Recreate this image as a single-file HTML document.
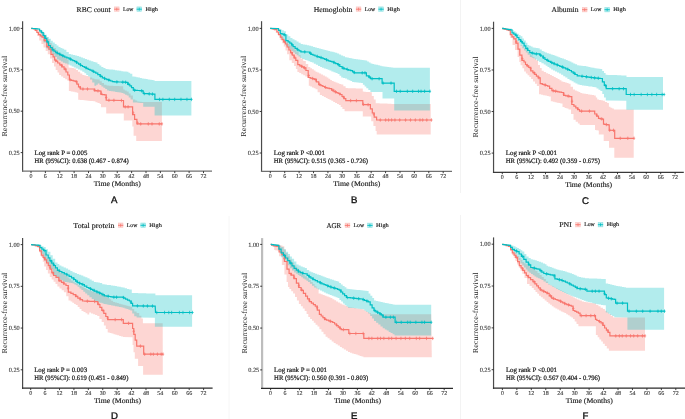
<!DOCTYPE html><html><head><meta charset="utf-8"><style>html,body{margin:0;padding:0;background:#fff;width:685px;height:419px;overflow:hidden}svg{display:block;will-change:transform}</style></head><body>
<svg width="685" height="419" viewBox="0 0 685 419" font-family="Liberation Serif, serif" text-rendering="geometricPrecision">
<rect width="685" height="419" fill="#fff"/>
<path d="M31.2,27.9 L32.1,27.9 L32.1,28 L33.9,28 L33.9,28.2 L35.7,28.2 L35.7,28.3 L36.6,28.3 L37.8,28.3 L37.8,29.5 L39,29.5 L39.8,29.5 L39.8,30.5 L41.5,30.5 L41.5,31.5 L42.3,31.5 L43.1,31.5 L43.1,33.5 L44.7,33.5 L44.7,35.5 L45.5,35.5 L46.2,35.5 L46.2,37.2 L47.8,37.2 L47.8,39 L48.5,39 L49.5,39 L49.5,43 L50.6,43 L51.7,43 L51.7,45.5 L53.8,45.5 L53.8,48 L54.9,48 L56,48 L56,50.2 L58.1,50.2 L58.1,52.5 L59.2,52.5 L60.4,52.5 L60.4,54.5 L62.7,54.5 L62.7,56.5 L63.9,56.5 L65.1,56.5 L65.1,58.1 L67.4,58.1 L67.4,59.8 L68.6,59.8 L68.6,67.4 L69.6,67.4 L69.6,67.7 L71.7,67.7 L71.7,68.1 L73.8,68.1 L73.8,68.4 L74.8,68.4 L75.9,68.4 L75.9,70.1 L78,70.1 L78,71.7 L80.2,71.7 L80.2,73.4 L82.3,73.4 L82.3,75 L83.4,75 L84.4,75 L84.4,75.5 L86.2,75.5 L86.2,76 L88.1,76 L88.1,76.5 L89.1,76.5 L90.1,76.5 L90.1,77.4 L92.2,77.4 L92.2,78.4 L94.4,78.4 L94.4,79.3 L95.4,79.3 L98.6,79.5 L99.7,79.5 L99.7,81.2 L101.8,81.2 L101.8,83 L104,83 L104,84.7 L105.1,84.7 L106.5,84.7 L106.5,85.6 L108,85.6 L109,85.6 L109,85.7 L111.1,85.7 L111.1,85.8 L113.2,85.8 L113.2,85.9 L115.2,85.9 L115.2,86 L117.3,86 L117.3,86.1 L119.4,86.1 L119.4,86.2 L121.5,86.2 L121.5,86.3 L122.5,86.3 L123.2,86.3 L123.2,89.6 L123.8,89.6 L124.8,89.6 L124.8,90.5 L126.7,90.5 L126.7,91.5 L127.7,91.5 L128.7,91.5 L128.7,93.5 L130.6,93.5 L130.6,95.5 L131.6,95.5 L132.9,95.5 L132.9,99.4 L134.3,99.4 L135.3,99.4 L135.3,100.4 L137.2,100.4 L137.2,101.4 L138.2,101.4 L139.3,101.4 L139.3,101.7 L141.7,101.7 L141.7,102 L142.8,102 L161.9,102 L161.9,141 L137.6,141 L136.2,141 L136.2,135.7 L134.9,135.7 L133.6,135.7 L133.6,126.5 L132.3,126.5 L132.3,120.6 L123.8,120.6 L123.8,113.6 L106.2,113.6 L106.2,107.2 L101.3,107.2 L101,107.2 L101,104 L100.8,104 L99.7,104 L99.7,103.1 L97.5,103.1 L97.5,102.2 L95.4,102.2 L95.4,101.3 L94.3,101.3 L93.3,101.3 L93.3,101.1 L91.4,101.1 L91.4,100.9 L89.5,100.9 L89.5,100.7 L87.5,100.7 L87.5,100.5 L85.6,100.5 L85.6,100.3 L83.6,100.3 L83.6,100.1 L81.7,100.1 L81.7,99.9 L79.8,99.9 L79.8,99.7 L78.8,99.7 L78.2,99.7 L78.2,92.7 L77.7,92.7 L76.7,92.7 L76.7,92.3 L74.7,92.3 L74.7,91.8 L72.8,91.8 L72.8,91.4 L70.8,91.4 L70.8,91 L69.8,91 L68.9,91 L68.9,80.5 L68.1,80.5 L67.1,80.5 L67.1,79.2 L65.2,79.2 L65.2,78 L64.3,78 L63.2,78 L63.2,76.5 L61.1,76.5 L61.1,75 L60,75 L59.1,75 L59.1,72.5 L57.5,72.5 L57.5,70 L56.6,70 L55.7,70 L55.7,66.5 L54,66.5 L54,63 L53.1,63 L52,63 L52,58.6 L50,58.6 L50,54.3 L48.9,54.3 L47.8,54.3 L47.8,50.9 L45.7,50.9 L45.7,47.5 L44.6,47.5 L43.5,47.5 L43.5,44 L41.4,44 L41.4,40.6 L40.3,40.6 L39.2,40.6 L39.2,35.9 L37.1,35.9 L37.1,31.2 L36,31.2 L35,31.2 L35,29 L34,29 L31.2,28.7Z" fill="#F8766D" fill-opacity="0.3"/>
<path d="M31.2,27.9 L36.6,28 L37.5,28 L37.5,28.8 L39.5,28.8 L39.5,29.6 L41.3,29.6 L41.3,30.4 L42.3,30.4 L43.2,30.4 L43.2,32.6 L45.1,32.6 L45.1,34.7 L47,34.7 L47,36.9 L48,36.9 L49,36.9 L49,38.8 L50.9,38.8 L50.9,40.7 L52.8,40.7 L52.8,42.6 L53.8,42.6 L54.8,42.6 L54.8,44 L56.6,44 L56.6,45.5 L58.5,45.5 L58.5,46.9 L59.5,46.9 L60.5,46.9 L60.5,47.9 L62.4,47.9 L62.4,48.8 L64.2,48.8 L64.2,49.8 L65.2,49.8 L66.4,49.8 L66.4,51.9 L68.8,51.9 L68.8,54 L70,54 L71,54 L71,54.5 L73,54.5 L73,55 L75.1,55 L75.1,55.5 L77.1,55.5 L77.1,56 L78.1,56 L79.1,56 L79.1,56.8 L81.1,56.8 L81.1,57.5 L83,57.5 L83,58.3 L85,58.3 L85,59 L87,59 L87,59.8 L88,59.8 L89.1,59.8 L89.1,60.5 L91.2,60.5 L91.2,61.2 L93.4,61.2 L93.4,61.9 L95.5,61.9 L95.5,62.6 L96.6,62.6 L97.5,62.6 L97.5,64 L99.4,64 L99.4,65.5 L101.3,65.5 L101.3,66.9 L102.3,66.9 L103.4,66.9 L103.4,68 L105.5,68 L105.5,69.1 L106.6,69.1 L107.5,69.1 L107.5,69.3 L109.3,69.3 L109.3,69.4 L111.1,69.4 L111.1,69.6 L112.9,69.6 L112.9,69.8 L113.8,69.8 L114.9,69.8 L114.9,70.2 L117,70.2 L117,70.5 L119.2,70.5 L119.2,70.8 L121.3,70.8 L121.3,71.2 L122.4,71.2 L123.3,71.2 L123.3,71.4 L125.1,71.4 L125.1,71.6 L126.8,71.6 L126.8,71.8 L127.7,71.8 L128.5,71.8 L128.5,72.8 L130.2,72.8 L130.2,73.8 L131,73.8 L132.3,73.8 L132.3,76.4 L133.6,76.4 L134.5,76.4 L134.5,76.8 L136.4,76.8 L136.4,77.2 L138.2,77.2 L138.2,77.6 L140,77.6 L140,78 L141.9,78 L141.9,78.4 L142.8,78.4 L143.8,78.4 L143.8,78.7 L145.8,78.7 L145.8,79.1 L147.7,79.1 L147.7,79.4 L149.7,79.4 L149.7,79.7 L151.7,79.7 L151.7,80.1 L153.6,80.1 L153.6,80.4 L154.6,80.4 L154.9,80.4 L154.9,81 L155.3,81 L191.4,81 L191.4,115.4 L154.6,115.4 L154.6,106.8 L143.5,106.8 L143.2,106.8 L143.2,103 L142.8,103 L141.7,103 L141.7,102.9 L139.6,102.9 L139.6,102.8 L137.5,102.8 L137.5,102.6 L135.4,102.6 L135.4,102.5 L134.3,102.5 L132.9,102.5 L132.9,99.5 L131.6,99.5 L130.6,99.5 L130.6,97.5 L128.7,97.5 L128.7,95.5 L127.7,95.5 L126.8,95.5 L126.8,94.7 L125.1,94.7 L125.1,93.8 L123.4,93.8 L123.4,93 L122.5,93 L121.5,93 L121.5,92.6 L119.4,92.6 L119.4,92.3 L117.3,92.3 L117.3,91.9 L115.2,91.9 L115.2,91.6 L113.2,91.6 L113.2,91.2 L111.1,91.2 L111.1,90.9 L109,90.9 L109,90.5 L108,90.5 L107.1,90.5 L107.1,89.1 L105.2,89.1 L105.2,87.7 L103.3,87.7 L103.3,86.4 L101.4,86.4 L101.4,85 L99.5,85 L99.5,83.6 L98.6,83.6 L97.8,83.6 L97.8,84.7 L96.2,84.7 L96.2,85.7 L95.4,85.7 L94.4,85.7 L94.4,82.6 L92.2,82.6 L92.2,79.6 L90.1,79.6 L90.1,76.5 L89.1,76.5 L88.1,76.5 L88.1,74.9 L86.2,74.9 L86.2,73.3 L84.4,73.3 L84.4,71.7 L83.4,71.7 L82.3,71.7 L82.3,70.6 L80.2,70.6 L80.2,69.6 L78,69.6 L78,68.5 L75.9,68.5 L75.9,67.5 L74.8,67.5 L73.8,67.5 L73.8,66.5 L71.7,66.5 L71.7,65.6 L69.6,65.6 L69.6,64.6 L68.6,64.6 L67.4,64.6 L67.4,63.6 L65.1,63.6 L65.1,62.7 L63.9,62.7 L62.9,62.7 L62.9,61.6 L61,61.6 L61,60.6 L59.1,60.6 L59.1,59.5 L58.1,59.5 L56.9,59.5 L56.9,56.9 L54.4,56.9 L54.4,54.3 L53.2,54.3 L52.2,54.3 L52.2,52.3 L50.2,52.3 L50.2,50.3 L48.2,50.3 L48.2,48.3 L47.2,48.3 L46,48.3 L46,42.4 L43.5,42.4 L43.5,36.5 L42.3,36.5 L41.4,36.5 L41.4,33 L39.6,33 L39.6,29.5 L38.7,29.5 L37.8,29.5 L37.8,29.3 L35.9,29.3 L35.9,29.1 L34,29.1 L34,28.9 L32.1,28.9 L32.1,28.7 L31.2,28.7Z" fill="#00BFC4" fill-opacity="0.3"/>
<path d="M31.2,28.3 L32,28.3 L32,28.6 L33.7,28.6 L33.7,28.8 L34.5,28.8 L35.2,28.8 L35.2,30.3 L36,30.3 L36.9,30.3 L36.9,32.5 L38.5,32.5 L38.5,34.6 L39.4,34.6 L40.3,34.6 L40.3,35.9 L42,35.9 L42,37.2 L42.9,37.2 L44.2,37.2 L44.2,40.6 L45.5,40.6 L46.8,40.6 L46.8,46.6 L48,46.6 L48.9,46.6 L48.9,49.2 L49.7,49.2 L51,49.2 L51,54.3 L52.3,54.3 L53.1,54.3 L53.1,56.9 L54,56.9 L54.6,56.9 L54.6,60 L55.2,60 L55.9,60 L55.9,61.2 L56.6,61.2 L57.7,61.2 L57.7,63 L59.8,63 L59.8,64.8 L60.9,64.8 L62,64.8 L62,66.9 L64.1,66.9 L64.1,69.1 L65.2,69.1 L66,69.1 L66,72 L67.8,72 L67.8,75 L68.6,75 L69.4,75 L69.4,79.8 L70.2,79.8 L71.2,79.8 L71.2,80.3 L73.2,80.3 L73.2,80.9 L75.1,80.9 L75.1,81.4 L76.1,81.4 L76.9,81.4 L76.9,84.1 L78.5,84.1 L78.5,86.8 L79.3,86.8 L80.4,86.8 L80.4,89 L81.5,89 L93.3,89 L94.3,89 L94.3,90.6 L95.4,90.6 L96.3,90.6 L96.3,90.8 L98.1,90.8 L98.1,90.9 L99.9,90.9 L99.9,91.1 L100.8,91.1 L101,91.1 L101,94.3 L101.3,94.3 L102.4,94.3 L102.4,94.6 L104.5,94.6 L104.5,94.9 L105.6,94.9 L106.2,94.9 L106.2,100.2 L106.7,100.2 L122.5,100.5 L123.5,100.5 L123.5,106.8 L124.4,106.8 L131.7,106.8 L132.6,106.8 L132.6,114.7 L133.6,114.7 L134.6,114.7 L134.6,119.3 L135.6,119.3 L136.9,119.3 L136.9,123.9 L138.2,123.9 L161.9,123.9" fill="none" stroke="#F8766D" stroke-width="1.2" stroke-linejoin="miter"/>
<path d="M45.00,38.25v3.4M43.80,39.95h2.4M47.99,44.87v3.4M46.79,46.57h2.4M55.82,58.83v3.4M54.62,60.53h2.4M61.62,63.82v3.4M60.42,65.52h2.4M65.19,67.39v3.4M63.99,69.09h2.4M70.14,77.93v3.4M68.94,79.63h2.4M76.44,80.27v3.4M75.24,81.97h2.4M80.19,85.99v3.4M78.99,87.69h2.4M82.95,87.30v3.4M81.75,89.00h2.4M87.48,87.30v3.4M86.28,89.00h2.4M94.82,88.46v3.4M93.62,90.16h2.4M97.97,89.14v3.4M96.77,90.84h2.4M101.15,91.62v3.4M99.95,93.32h2.4M106.14,95.82v3.4M104.94,97.52h2.4M108.91,98.54v3.4M107.71,100.24h2.4M113.88,98.64v3.4M112.68,100.34h2.4M121.45,98.78v3.4M120.25,100.48h2.4M125.22,105.10v3.4M124.02,106.80h2.4M128.10,105.10v3.4M126.90,106.80h2.4M133.14,111.10v3.4M131.94,112.80h2.4M137.64,121.21v3.4M136.44,122.91h2.4M140.70,122.20v3.4M139.50,123.90h2.4M148.32,122.20v3.4M147.12,123.90h2.4M152.00,122.20v3.4M150.80,123.90h2.4M159.31,122.20v3.4M158.11,123.90h2.4M161.90,122.20v3.4M160.70,123.90h2.4" fill="none" stroke="#F8766D" stroke-width="0.75"/>
<path d="M31.2,28.3 L32.1,28.3 L32.1,28.5 L34,28.5 L34,28.7 L35.9,28.7 L35.9,28.8 L37.8,28.8 L37.8,29 L38.7,29 L39.6,29 L39.6,30.8 L41.4,30.8 L41.4,32.6 L42.3,32.6 L43.2,32.6 L43.2,35.5 L45,35.5 L45,38.3 L45.9,38.3 L46.8,38.3 L46.8,41.9 L48.6,41.9 L48.6,45.5 L49.5,45.5 L50.4,45.5 L50.4,47.6 L52.2,47.6 L52.2,49.8 L53.1,49.8 L54,49.8 L54,51.2 L55.7,51.2 L55.7,52.6 L56.6,52.6 L57.5,52.6 L57.5,53.5 L59.3,53.5 L59.3,54.4 L61.1,54.4 L61.1,55.3 L62.9,55.3 L62.9,56.2 L63.8,56.2 L64.8,56.2 L64.8,57.1 L66.9,57.1 L66.9,57.9 L69,57.9 L69,58.8 L70,58.8 L71,58.8 L71,59.8 L72.8,59.8 L72.8,60.7 L74.8,60.7 L74.8,61.7 L75.7,61.7 L76.7,61.7 L76.7,63 L78.6,63 L78.6,64.2 L80.5,64.2 L80.5,65.5 L81.5,65.5 L82.5,65.5 L82.5,66.5 L84.3,66.5 L84.3,67.4 L86.2,67.4 L86.2,68.4 L88.1,68.4 L88.1,69.3 L89.1,69.3 L90,69.3 L90,70.2 L92,70.2 L92,71.2 L93.8,71.2 L93.8,72.2 L95.8,72.2 L95.8,73.1 L96.7,73.1 L97.8,73.1 L97.8,74.7 L100.1,74.7 L100.1,76.3 L102.3,76.3 L102.3,77.9 L103.4,77.9 L104.6,77.9 L104.6,78.8 L106.8,78.8 L106.8,79.7 L108,79.7 L108.9,79.7 L108.9,80.4 L110.7,80.4 L110.7,81 L112.4,81 L112.4,81.7 L113.3,81.7 L114.2,81.7 L114.2,81.8 L116.1,81.8 L116.1,81.9 L118,81.9 L118,82 L119.8,82 L119.8,82 L121.7,82 L121.7,82.1 L123.6,82.1 L123.6,82.2 L125.5,82.2 L125.5,82.3 L126.4,82.3 L127.7,82.3 L127.7,84.3 L129,84.3 L129.8,84.3 L129.8,85.9 L131.5,85.9 L131.5,87.6 L132.3,87.6 L133.3,87.6 L133.3,90.2 L134.3,90.2 L135.4,90.2 L135.4,90.4 L137.5,90.4 L137.5,90.5 L139.6,90.5 L139.6,90.7 L141.7,90.7 L141.7,90.9 L142.8,90.9 L143.2,90.9 L143.2,93.5 L143.5,93.5 L144.4,93.5 L144.4,93.6 L146.3,93.6 L146.3,93.7 L148.1,93.7 L148.1,93.9 L150,93.9 L150,94 L151.8,94 L151.8,94.1 L153.7,94.1 L153.7,94.2 L154.6,94.2 L154.9,94.2 L154.9,99.4 L155.3,99.4 L191.4,99.4" fill="none" stroke="#00BFC4" stroke-width="1.2" stroke-linejoin="miter"/>
<path d="M45.00,35.17v3.4M43.80,36.88h2.4M47.64,40.08v3.4M46.44,41.78h2.4M52.88,47.84v3.4M51.68,49.54h2.4M57.23,51.21v3.4M56.03,52.91h2.4M59.77,52.48v3.4M58.57,54.18h2.4M62.84,54.02v3.4M61.64,55.72h2.4M70.35,57.28v3.4M69.15,58.98h2.4M76.63,60.61v3.4M75.43,62.31h2.4M80.50,63.14v3.4M79.30,64.84h2.4M86.05,66.08v3.4M84.85,67.78h2.4M93.28,69.69v3.4M92.08,71.39h2.4M100.61,74.20v3.4M99.41,75.90h2.4M104.58,76.66v3.4M103.38,78.36h2.4M108.88,78.33v3.4M107.68,80.03h2.4M116.87,80.16v3.4M115.67,81.86h2.4M122.78,80.43v3.4M121.58,82.13h2.4M125.62,80.56v3.4M124.42,82.26h2.4M128.35,82.10v3.4M127.15,83.80h2.4M134.62,88.53v3.4M133.42,90.23h2.4M141.66,89.11v3.4M140.46,90.81h2.4M144.24,91.85v3.4M143.04,93.55h2.4M149.25,92.16v3.4M148.05,93.86h2.4M152.44,92.36v3.4M151.24,94.06h2.4M159.54,97.70v3.4M158.34,99.40h2.4M162.87,97.70v3.4M161.67,99.40h2.4M169.31,97.70v3.4M168.11,99.40h2.4M174.67,97.70v3.4M173.47,99.40h2.4M180.97,97.70v3.4M179.77,99.40h2.4M186.94,97.70v3.4M185.74,99.40h2.4M191.40,97.70v3.4M190.20,99.40h2.4" fill="none" stroke="#00BFC4" stroke-width="0.75"/>
<line x1="22.60" y1="21.2" x2="22.60" y2="171.80" stroke="#4a4a4a" stroke-width="1.2"/>
<line x1="22.00" y1="171.2" x2="212.0" y2="171.2" stroke="#707070" stroke-width="1.2"/>
<line x1="20.70" y1="28.40" x2="22.6" y2="28.40" stroke="#262626" stroke-width="0.9"/>
<text x="19.70" y="30.50" font-size="6.3" fill="#3d3d3d" stroke="#3d3d3d" stroke-width="0.12" text-anchor="end" textLength="11" lengthAdjust="spacingAndGlyphs">1.00</text>
<line x1="20.70" y1="69.80" x2="22.6" y2="69.80" stroke="#262626" stroke-width="0.9"/>
<text x="19.70" y="71.90" font-size="6.3" fill="#3d3d3d" stroke="#3d3d3d" stroke-width="0.12" text-anchor="end" textLength="11" lengthAdjust="spacingAndGlyphs">0.75</text>
<line x1="20.70" y1="111.20" x2="22.6" y2="111.20" stroke="#262626" stroke-width="0.9"/>
<text x="19.70" y="113.30" font-size="6.3" fill="#3d3d3d" stroke="#3d3d3d" stroke-width="0.12" text-anchor="end" textLength="11" lengthAdjust="spacingAndGlyphs">0.50</text>
<line x1="20.70" y1="152.60" x2="22.6" y2="152.60" stroke="#262626" stroke-width="0.9"/>
<text x="19.70" y="154.70" font-size="6.3" fill="#3d3d3d" stroke="#3d3d3d" stroke-width="0.12" text-anchor="end" textLength="11" lengthAdjust="spacingAndGlyphs">0.25</text>
<line x1="31.00" y1="171.2" x2="31.00" y2="173.10" stroke="#262626" stroke-width="0.9"/>
<text x="31.00" y="177.80" font-size="5.9" fill="#3d3d3d" stroke="#3d3d3d" stroke-width="0.12" text-anchor="middle" textLength="3.0" lengthAdjust="spacingAndGlyphs">0</text>
<line x1="45.38" y1="171.2" x2="45.38" y2="173.10" stroke="#262626" stroke-width="0.9"/>
<text x="45.38" y="177.80" font-size="5.9" fill="#3d3d3d" stroke="#3d3d3d" stroke-width="0.12" text-anchor="middle" textLength="3.0" lengthAdjust="spacingAndGlyphs">6</text>
<line x1="59.75" y1="171.2" x2="59.75" y2="173.10" stroke="#262626" stroke-width="0.9"/>
<text x="59.75" y="177.80" font-size="5.9" fill="#3d3d3d" stroke="#3d3d3d" stroke-width="0.12" text-anchor="middle" textLength="6.0" lengthAdjust="spacingAndGlyphs">12</text>
<line x1="74.12" y1="171.2" x2="74.12" y2="173.10" stroke="#262626" stroke-width="0.9"/>
<text x="74.12" y="177.80" font-size="5.9" fill="#3d3d3d" stroke="#3d3d3d" stroke-width="0.12" text-anchor="middle" textLength="6.0" lengthAdjust="spacingAndGlyphs">18</text>
<line x1="88.50" y1="171.2" x2="88.50" y2="173.10" stroke="#262626" stroke-width="0.9"/>
<text x="88.50" y="177.80" font-size="5.9" fill="#3d3d3d" stroke="#3d3d3d" stroke-width="0.12" text-anchor="middle" textLength="6.0" lengthAdjust="spacingAndGlyphs">24</text>
<line x1="102.88" y1="171.2" x2="102.88" y2="173.10" stroke="#262626" stroke-width="0.9"/>
<text x="102.88" y="177.80" font-size="5.9" fill="#3d3d3d" stroke="#3d3d3d" stroke-width="0.12" text-anchor="middle" textLength="6.0" lengthAdjust="spacingAndGlyphs">30</text>
<line x1="117.25" y1="171.2" x2="117.25" y2="173.10" stroke="#262626" stroke-width="0.9"/>
<text x="117.25" y="177.80" font-size="5.9" fill="#3d3d3d" stroke="#3d3d3d" stroke-width="0.12" text-anchor="middle" textLength="6.0" lengthAdjust="spacingAndGlyphs">36</text>
<line x1="131.62" y1="171.2" x2="131.62" y2="173.10" stroke="#262626" stroke-width="0.9"/>
<text x="131.62" y="177.80" font-size="5.9" fill="#3d3d3d" stroke="#3d3d3d" stroke-width="0.12" text-anchor="middle" textLength="6.0" lengthAdjust="spacingAndGlyphs">42</text>
<line x1="146.00" y1="171.2" x2="146.00" y2="173.10" stroke="#262626" stroke-width="0.9"/>
<text x="146.00" y="177.80" font-size="5.9" fill="#3d3d3d" stroke="#3d3d3d" stroke-width="0.12" text-anchor="middle" textLength="6.0" lengthAdjust="spacingAndGlyphs">48</text>
<line x1="160.38" y1="171.2" x2="160.38" y2="173.10" stroke="#262626" stroke-width="0.9"/>
<text x="160.38" y="177.80" font-size="5.9" fill="#3d3d3d" stroke="#3d3d3d" stroke-width="0.12" text-anchor="middle" textLength="6.0" lengthAdjust="spacingAndGlyphs">54</text>
<line x1="174.75" y1="171.2" x2="174.75" y2="173.10" stroke="#262626" stroke-width="0.9"/>
<text x="174.75" y="177.80" font-size="5.9" fill="#3d3d3d" stroke="#3d3d3d" stroke-width="0.12" text-anchor="middle" textLength="6.0" lengthAdjust="spacingAndGlyphs">60</text>
<line x1="189.12" y1="171.2" x2="189.12" y2="173.10" stroke="#262626" stroke-width="0.9"/>
<text x="189.12" y="177.80" font-size="5.9" fill="#3d3d3d" stroke="#3d3d3d" stroke-width="0.12" text-anchor="middle" textLength="6.0" lengthAdjust="spacingAndGlyphs">66</text>
<line x1="203.50" y1="171.2" x2="203.50" y2="173.10" stroke="#262626" stroke-width="0.9"/>
<text x="203.50" y="177.80" font-size="5.9" fill="#3d3d3d" stroke="#3d3d3d" stroke-width="0.12" text-anchor="middle" textLength="6.0" lengthAdjust="spacingAndGlyphs">72</text>
<text x="117.30" y="185.70" font-size="7.3" fill="#1a1a1a" stroke="#1a1a1a" stroke-width="0.15" paint-order="stroke" text-anchor="middle" textLength="47" lengthAdjust="spacingAndGlyphs">Time (Months)</text>
<text transform="translate(7.20,96.20) rotate(-90)" font-size="7.6" fill="#1a1a1a" text-anchor="middle" textLength="80.8" lengthAdjust="spacingAndGlyphs">Recurrence-free survival</text>
<text x="34.50" y="154.90" font-size="6.7" fill="#1a1a1a" stroke="#1a1a1a" stroke-width="0.2" textLength="52.9" lengthAdjust="spacingAndGlyphs">Log rank P = 0.005</text>
<text x="34.50" y="162.50" font-size="6.7" fill="#1a1a1a" stroke="#1a1a1a" stroke-width="0.2" textLength="94.2" lengthAdjust="spacingAndGlyphs">HR (95%CI): 0.638 (0.467 - 0.874)</text>
<text x="114.20" y="202.70" font-family="Liberation Sans, sans-serif" font-size="9.6" fill="#111" stroke="#111" stroke-width="0.35" text-anchor="middle">A</text>
<text x="76.60" y="11.95" font-size="7.4" fill="#1a1a1a" stroke="#1a1a1a" stroke-width="0.15" paint-order="stroke" textLength="34.0" lengthAdjust="spacingAndGlyphs">RBC count</text>
<rect x="114.35" y="6.85" width="4.8" height="4.6" fill="#F8766D" fill-opacity="0.3" stroke="#F8766D" stroke-opacity="0.35" stroke-width="0.5"/>
<line x1="114.10" y1="9.20" x2="119.40" y2="9.20" stroke="#F8766D" stroke-width="0.9"/>
<line x1="116.75" y1="7.70" x2="116.75" y2="10.70" stroke="#F8766D" stroke-width="0.75"/>
<text x="122.90" y="10.85" font-size="5.8" fill="#1a1a1a" stroke="#1a1a1a" stroke-width="0.15" paint-order="stroke" textLength="10.5" lengthAdjust="spacingAndGlyphs">Low</text>
<rect x="136.85" y="6.85" width="4.8" height="4.6" fill="#00BFC4" fill-opacity="0.3" stroke="#00BFC4" stroke-opacity="0.35" stroke-width="0.5"/>
<line x1="136.60" y1="9.20" x2="141.90" y2="9.20" stroke="#00BFC4" stroke-width="0.9"/>
<line x1="139.25" y1="7.70" x2="139.25" y2="10.70" stroke="#00BFC4" stroke-width="0.75"/>
<text x="145.40" y="10.85" font-size="5.8" fill="#1a1a1a" stroke="#1a1a1a" stroke-width="0.15" paint-order="stroke" textLength="12.6" lengthAdjust="spacingAndGlyphs">High</text>
<path d="M270.1,28 L271.3,28 L271.3,28.2 L273.8,28.2 L273.8,28.5 L275,28.5 L276,28.5 L276,30.7 L278.1,30.7 L278.1,32.8 L280.2,32.8 L280.2,35 L281.2,35 L282.2,35 L282.2,37.4 L284.2,37.4 L284.2,39.9 L286.2,39.9 L286.2,42.3 L287.2,42.3 L288.2,42.3 L288.2,44 L290.2,44 L290.2,45.8 L292.2,45.8 L292.2,47.5 L293.2,47.5 L294.3,47.5 L294.3,49.6 L296.4,49.6 L296.4,51.8 L297.5,51.8 L298.6,51.8 L298.6,55.2 L300.7,55.2 L300.7,58.6 L301.8,58.6 L303.2,58.6 L303.2,61 L304.6,61 L305.8,61 L305.8,64 L308.2,64 L308.2,67 L309.4,67 L310.3,67 L310.3,68.2 L312,68.2 L312,69.3 L313.8,69.3 L313.8,70.5 L315.5,70.5 L315.5,71.7 L316.4,71.7 L317.3,71.7 L317.3,72.6 L319.2,72.6 L319.2,73.6 L321.1,73.6 L321.1,74.5 L323,74.5 L323,75.5 L324.9,75.5 L324.9,76.4 L325.8,76.4 L326.7,76.4 L326.7,77.6 L328.4,77.6 L328.4,78.8 L330.2,78.8 L330.2,79.9 L331.9,79.9 L331.9,81.1 L332.8,81.1 L333.7,81.1 L333.7,81.8 L335.6,81.8 L335.6,82.5 L337.5,82.5 L337.5,83.2 L339.3,83.2 L339.3,83.9 L341.2,83.9 L341.2,84.6 L342.1,84.6 L343.3,84.6 L343.3,86.3 L345.6,86.3 L345.6,88.1 L346.8,88.1 L347.8,88.1 L347.8,88.2 L349.8,88.2 L349.8,88.2 L351.8,88.2 L351.8,88.3 L353.8,88.3 L353.8,88.3 L355.8,88.3 L355.8,88.4 L357.8,88.4 L357.8,88.5 L359.8,88.5 L359.8,88.5 L361.8,88.5 L361.8,88.6 L362.8,88.6 L362.8,91.6 L363.8,91.6 L363.8,91.8 L365.8,91.8 L365.8,91.9 L367.8,91.9 L367.8,92.1 L369.8,92.1 L369.8,92.3 L370.8,92.3 L371.8,92.3 L371.8,95.9 L373.8,95.9 L373.8,99.6 L375.7,99.6 L375.7,103.2 L376.7,103.2 L377.7,103.2 L377.7,103.3 L379.6,103.3 L379.6,103.4 L381.6,103.4 L381.6,103.5 L383.5,103.5 L383.5,103.6 L385.4,103.6 L385.4,103.6 L387.4,103.6 L387.4,103.7 L389.3,103.7 L389.3,103.8 L391.3,103.8 L391.3,103.9 L393.2,103.9 L393.2,104 L394.2,104 L430.7,104 L430.7,134.6 L376.7,134.6 L376.7,131 L375.6,131 L375.6,126.1 L373.4,126.1 L373.4,121.3 L371.2,121.3 L371.2,116.4 L370.1,116.4 L362.8,116.4 L362.8,111.3 L346,111.3 L344.6,111.3 L344.6,109 L343.3,109 L342.4,109 L342.4,107 L340.7,107 L340.7,105 L339.8,105 L338.9,105 L338.9,104 L337,104 L337,102.9 L335.1,102.9 L335.1,101.9 L333.2,101.9 L333.2,100.8 L331.3,100.8 L331.3,99.8 L330.4,99.8 L329.5,99.8 L329.5,98.9 L327.6,98.9 L327.6,97.9 L325.8,97.9 L325.8,97 L323.9,97 L323.9,96 L322,96 L322,95.1 L321.1,95.1 L319.9,95.1 L319.9,92.2 L317.6,92.2 L317.6,89.2 L316.4,89.2 L315.5,89.2 L315.5,88.3 L313.8,88.3 L313.8,87.5 L312,87.5 L312,86.6 L310.3,86.6 L310.3,85.7 L309.4,85.7 L308.8,85.7 L308.8,77.5 L308.2,77.5 L307.2,77.5 L307.2,76.4 L305.2,76.4 L305.2,75.3 L303.2,75.3 L303.2,74.2 L301.2,74.2 L301.2,73.1 L299.2,73.1 L299.2,72 L298.2,72 L297.4,72 L297.4,69 L295.9,69 L295.9,66 L295.2,66 L294.1,66 L294.1,63.1 L291.8,63.1 L291.8,60.3 L290.6,60.3 L289.3,60.3 L289.3,54.3 L288,54.3 L287.1,54.3 L287.1,50.5 L285.5,50.5 L285.5,46.6 L284.6,46.6 L283.8,46.6 L283.8,43.2 L282.1,43.2 L282.1,39.7 L281.2,39.7 L279.9,39.7 L279.9,34.6 L278.6,34.6 L277.7,34.6 L277.7,32.8 L275.8,32.8 L275.8,31.1 L273.9,31.1 L273.9,29.3 L273,29.3 L271.6,29.3 L271.6,28.8 L270.1,28.8Z" fill="#F8766D" fill-opacity="0.3"/>
<path d="M270.1,28 L277.7,28.1 L278.6,28.1 L278.6,28.8 L280.3,28.8 L280.3,29.4 L281.2,29.4 L282.1,29.4 L282.1,30.3 L283.8,30.3 L283.8,31.2 L284.6,31.2 L285.9,31.2 L285.9,34.6 L287.2,34.6 L288.3,34.6 L288.3,36.3 L290.4,36.3 L290.4,38 L291.5,38 L292.5,38 L292.5,39.2 L294.5,39.2 L294.5,40.3 L296.5,40.3 L296.5,41.5 L297.5,41.5 L298.6,41.5 L298.6,42.8 L300.7,42.8 L300.7,44 L301.8,44 L302.9,44 L302.9,44.4 L305,44.4 L305,44.8 L307.1,44.8 L307.1,45.3 L309.2,45.3 L309.2,45.7 L310.3,45.7 L311.2,45.7 L311.2,46.3 L313.1,46.3 L313.1,46.9 L315.1,46.9 L315.1,47.5 L316,47.5 L316.9,47.5 L316.9,48 L318.9,48 L318.9,48.6 L319.8,48.6 L320.7,48.6 L320.7,49.1 L322.6,49.1 L322.6,49.5 L324.5,49.5 L324.5,50 L326.4,50 L326.4,50.4 L328.3,50.4 L328.3,50.9 L329.2,50.9 L330.1,50.9 L330.1,51.4 L331.8,51.4 L331.8,51.8 L333.6,51.8 L333.6,52.3 L335.3,52.3 L335.3,52.7 L336.2,52.7 L337.2,52.7 L337.2,53.6 L339.1,53.6 L339.1,54.5 L341.1,54.5 L341.1,55.4 L343.1,55.4 L343.1,56.3 L345,56.3 L345,57.2 L346,57.2 L346.9,57.2 L346.9,57.6 L348.7,57.6 L348.7,58 L350.6,58 L350.6,58.3 L352.4,58.3 L352.4,58.7 L353.3,58.7 L354.2,58.7 L354.2,58.9 L356.1,58.9 L356.1,59.2 L358,59.2 L358,59.4 L359.9,59.4 L359.9,59.7 L361.7,59.7 L361.7,59.9 L363.6,59.9 L363.6,60.2 L365.5,60.2 L365.5,60.4 L366.4,60.4 L367.2,60.4 L367.2,61.4 L368.9,61.4 L368.9,62.4 L370.6,62.4 L370.6,63.4 L371.5,63.4 L372.4,63.4 L372.4,63.9 L374.2,63.9 L374.2,64.4 L376.1,64.4 L376.1,64.8 L377.9,64.8 L377.9,65.3 L379.8,65.3 L379.8,65.8 L381.6,65.8 L381.6,66.3 L382.5,66.3 L383.5,66.3 L383.5,66.5 L385.4,66.5 L385.4,66.8 L387.4,66.8 L387.4,67 L389.3,67 L389.3,67.2 L391.3,67.2 L391.3,67.5 L393.2,67.5 L393.2,67.7 L394.2,67.7 L429.9,67.7 L429.9,110.5 L394.2,110.5 L394.2,98.6 L382.5,98.6 L382.5,92 L371.5,92 L370.4,92 L370.4,90.1 L368.3,90.1 L368.3,88.2 L367.2,88.2 L366.3,88.2 L366.3,86.5 L364.6,86.5 L364.6,84.7 L362.9,84.7 L362.9,83 L362,83 L360.9,83 L360.9,82.8 L358.6,82.8 L358.6,82.5 L356.4,82.5 L356.4,82.2 L354.1,82.2 L354.1,82 L353,82 L352.1,82 L352.1,81.1 L350.4,81.1 L350.4,80.2 L348.6,80.2 L348.6,79.4 L346.9,79.4 L346.9,78.5 L346,78.5 L345,78.5 L345,78 L343.1,78 L343.1,77.5 L342.1,77.5 L341.2,77.5 L341.2,75.8 L339.5,75.8 L339.5,74 L338.6,74 L337.6,74 L337.6,73.1 L335.5,73.1 L335.5,72.2 L333.5,72.2 L333.5,71.4 L331.4,71.4 L331.4,70.5 L330.4,70.5 L329.5,70.5 L329.5,69.8 L327.6,69.8 L327.6,69.1 L325.8,69.1 L325.8,68.4 L323.9,68.4 L323.9,67.7 L322,67.7 L322,67 L321.1,67 L320.1,67 L320.1,65.9 L318,65.9 L318,64.8 L315.9,64.8 L315.9,63.7 L313.8,63.7 L313.8,62.6 L312.8,62.6 L311.9,62.6 L311.9,61.9 L310.2,61.9 L310.2,61.3 L308.4,61.3 L308.4,60.6 L306.7,60.6 L306.7,60 L305.8,60 L304.6,60 L304.6,59 L302.3,59 L302.3,58 L301.1,58 L300.2,58 L300.2,56.6 L298.5,56.6 L298.5,55.2 L296.7,55.2 L296.7,53.9 L295,53.9 L295,52.5 L294.1,52.5 L293.2,52.5 L293.2,50.9 L291.4,50.9 L291.4,49.2 L289.7,49.2 L289.7,47.6 L287.9,47.6 L287.9,46 L287,46 L286,46 L286,43 L284.1,43 L284.1,40 L282.2,40 L282.2,37 L281.2,37 L280.3,37 L280.3,33.1 L278.6,33.1 L278.6,29.2 L277.7,29.2 L270.1,28.8Z" fill="#00BFC4" fill-opacity="0.3"/>
<path d="M270.1,28.4 L271.1,28.4 L271.1,28.7 L273.1,28.7 L273.1,29.1 L275,29.1 L275,29.4 L276,29.4 L276.9,29.4 L276.9,32 L278.5,32 L278.5,34.6 L279.4,34.6 L280.3,34.6 L280.3,37.2 L282,37.2 L282,39.7 L282.9,39.7 L283.8,39.7 L283.8,41.9 L285.4,41.9 L285.4,44 L286.3,44 L287.1,44 L287.1,47 L288.9,47 L288.9,50 L289.7,50 L290.6,50 L290.6,52.6 L292.3,52.6 L292.3,55.2 L293.2,55.2 L294.1,55.2 L294.1,57.8 L295.8,57.8 L295.8,60.3 L296.6,60.3 L297.8,60.3 L297.8,64.7 L298.9,64.7 L299.8,64.7 L299.8,65.8 L301.8,65.8 L301.8,66.8 L303.7,66.8 L303.7,67.9 L304.6,67.9 L305.9,67.9 L305.9,70.5 L307.1,70.5 L308.2,70.5 L308.2,77.5 L309.4,77.5 L310.4,77.5 L310.4,78.1 L312.3,78.1 L312.3,78.7 L314.2,78.7 L314.2,79.3 L315.2,79.3 L316.4,79.3 L316.4,81.9 L318.7,81.9 L318.7,84.6 L319.9,84.6 L320.9,84.6 L320.9,85.6 L322.9,85.6 L322.9,86.5 L324.8,86.5 L324.8,87.5 L325.8,87.5 L326.9,87.5 L326.9,88.1 L329.2,88.1 L329.2,88.7 L330.4,88.7 L331.6,88.7 L331.6,90.2 L333.9,90.2 L333.9,91.6 L335.1,91.6 L336.1,91.6 L336.1,92.6 L338.1,92.6 L338.1,93.5 L340,93.5 L340,94.5 L341,94.5 L342,94.5 L342,96.5 L343.9,96.5 L343.9,98.6 L345.8,98.6 L345.8,100.6 L346.8,100.6 L362.1,100.6 L362.8,100.6 L362.8,104.7 L363.5,104.7 L369.4,104.7 L370.4,104.7 L370.4,108.8 L372.3,108.8 L372.3,113 L374.2,113 L374.2,117.1 L375.2,117.1 L376.6,117.1 L376.6,120 L378.1,120 L431.4,120" fill="none" stroke="#F8766D" stroke-width="1.2" stroke-linejoin="miter"/>
<path d="M284.30,39.77v3.4M283.10,41.47h2.4M291.82,51.45v3.4M290.62,53.15h2.4M294.38,55.27v3.4M293.18,56.97h2.4M301.75,64.60v3.4M300.55,66.30h2.4M304.48,66.13v3.4M303.28,67.83h2.4M308.77,73.87v3.4M307.57,75.57h2.4M312.72,76.83v3.4M311.52,78.53h2.4M315.71,78.18v3.4M314.51,79.88h2.4M319.62,82.58v3.4M318.42,84.28h2.4M325.42,85.62v3.4M324.22,87.32h2.4M332.87,88.52v3.4M331.67,90.22h2.4M335.42,90.06v3.4M334.22,91.76h2.4M339.83,92.22v3.4M338.63,93.92h2.4M343.73,95.67v3.4M342.53,97.37h2.4M350.63,98.90v3.4M349.43,100.60h2.4M356.41,98.90v3.4M355.21,100.60h2.4M363.37,102.62v3.4M362.17,104.32h2.4M368.10,103.00v3.4M366.90,104.70h2.4M373.79,112.39v3.4M372.59,114.09h2.4M380.30,118.30v3.4M379.10,120.00h2.4M385.63,118.30v3.4M384.43,120.00h2.4M388.61,118.30v3.4M387.41,120.00h2.4M391.60,118.30v3.4M390.40,120.00h2.4M394.91,118.30v3.4M393.71,120.00h2.4M399.66,118.30v3.4M398.46,120.00h2.4M405.57,118.30v3.4M404.37,120.00h2.4M410.51,118.30v3.4M409.31,120.00h2.4M415.37,118.30v3.4M414.17,120.00h2.4M419.96,118.30v3.4M418.76,120.00h2.4M422.66,118.30v3.4M421.46,120.00h2.4M426.76,118.30v3.4M425.56,120.00h2.4M431.40,118.30v3.4M430.20,120.00h2.4" fill="none" stroke="#F8766D" stroke-width="0.75"/>
<path d="M270.1,28.4 L277.7,28.7 L278.5,28.7 L278.5,30.3 L279.4,30.3 L280.3,30.3 L280.3,33.7 L281.2,33.7 L282.1,33.7 L282.1,34.2 L283.8,34.2 L283.8,34.8 L284.6,34.8 L285.9,34.8 L285.9,40.6 L287.2,40.6 L288.1,40.6 L288.1,41.9 L289.8,41.9 L289.8,43.2 L290.6,43.2 L291.5,43.2 L291.5,44.9 L293.1,44.9 L293.1,46.6 L294,46.6 L295.1,46.6 L295.1,48.3 L297.2,48.3 L297.2,50 L298.3,50 L299.2,50 L299.2,50.9 L300.9,50.9 L300.9,51.8 L301.8,51.8 L308.6,52 L309.5,52 L309.5,53.1 L311.1,53.1 L311.1,54.3 L312,54.3 L313,54.3 L313,55.1 L315,55.1 L315,56 L316,56 L317,56 L317,56.6 L319.1,56.6 L319.1,57.3 L321.1,57.3 L321.1,57.9 L322.1,57.9 L323,57.9 L323,58.6 L324.8,58.6 L324.8,59.4 L326.5,59.4 L326.5,60.1 L328.3,60.1 L328.3,60.8 L329.2,60.8 L330.1,60.8 L330.1,61.3 L331.9,61.3 L331.9,61.8 L332.8,61.8 L333.8,61.8 L333.8,62.8 L335.7,62.8 L335.7,63.7 L337.6,63.7 L337.6,64.7 L338.6,64.7 L339.8,64.7 L339.8,66.5 L342.1,66.5 L342.1,68.2 L343.3,68.2 L344.4,68.2 L344.4,68.8 L346.5,68.8 L346.5,69.5 L348.6,69.5 L348.6,70.1 L350.7,70.1 L350.7,70.7 L351.8,70.7 L352.6,70.7 L352.6,71.8 L354.1,71.8 L354.1,72.8 L354.8,72.8 L365,72.8 L366.4,72.8 L366.4,75.8 L367.9,75.8 L368.8,75.8 L368.8,77.2 L370.6,77.2 L370.6,78.7 L371.5,78.7 L381.8,78.7 L382.1,78.7 L382.1,83.1 L382.5,83.1 L394.2,83.1 L394.2,91.3 L429.9,91.3" fill="none" stroke="#00BFC4" stroke-width="1.2" stroke-linejoin="miter"/>
<path d="M284.30,33.00v3.4M283.10,34.70h2.4M292.11,43.01v3.4M290.91,44.71h2.4M297.74,47.86v3.4M296.54,49.56h2.4M304.75,50.19v3.4M303.55,51.89h2.4M310.46,51.56v3.4M309.26,53.26h2.4M317.23,54.68v3.4M316.03,56.38h2.4M321.01,55.86v3.4M319.81,57.56h2.4M326.59,58.03v3.4M325.39,59.73h2.4M333.99,60.70v3.4M332.79,62.40h2.4M338.56,62.98v3.4M337.36,64.68h2.4M343.19,66.42v3.4M341.99,68.12h2.4M347.31,67.68v3.4M346.11,69.38h2.4M354.26,70.72v3.4M353.06,72.42h2.4M362.25,71.10v3.4M361.05,72.80h2.4M364.94,71.10v3.4M363.74,72.80h2.4M369.33,75.25v3.4M368.13,76.95h2.4M372.10,77.00v3.4M370.90,78.70h2.4M379.14,77.00v3.4M377.94,78.70h2.4M383.07,81.40v3.4M381.87,83.10h2.4M391.03,81.40v3.4M389.83,83.10h2.4M396.49,89.60v3.4M395.29,91.30h2.4M400.22,89.60v3.4M399.02,91.30h2.4M407.37,89.60v3.4M406.17,91.30h2.4M412.65,89.60v3.4M411.45,91.30h2.4M418.52,89.60v3.4M417.32,91.30h2.4M421.04,89.60v3.4M419.84,91.30h2.4M424.57,89.60v3.4M423.37,91.30h2.4M429.90,89.60v3.4M428.70,91.30h2.4" fill="none" stroke="#00BFC4" stroke-width="0.75"/>
<line x1="261.55" y1="21.2" x2="261.55" y2="171.90" stroke="#4a4a4a" stroke-width="1.2"/>
<line x1="260.95" y1="171.3" x2="452.0" y2="171.3" stroke="#707070" stroke-width="1.2"/>
<line x1="259.65" y1="28.40" x2="261.55" y2="28.40" stroke="#262626" stroke-width="0.9"/>
<text x="258.65" y="30.50" font-size="6.3" fill="#3d3d3d" stroke="#3d3d3d" stroke-width="0.12" text-anchor="end" textLength="11" lengthAdjust="spacingAndGlyphs">1.00</text>
<line x1="259.65" y1="69.93" x2="261.55" y2="69.93" stroke="#262626" stroke-width="0.9"/>
<text x="258.65" y="72.03" font-size="6.3" fill="#3d3d3d" stroke="#3d3d3d" stroke-width="0.12" text-anchor="end" textLength="11" lengthAdjust="spacingAndGlyphs">0.75</text>
<line x1="259.65" y1="111.47" x2="261.55" y2="111.47" stroke="#262626" stroke-width="0.9"/>
<text x="258.65" y="113.57" font-size="6.3" fill="#3d3d3d" stroke="#3d3d3d" stroke-width="0.12" text-anchor="end" textLength="11" lengthAdjust="spacingAndGlyphs">0.50</text>
<line x1="259.65" y1="153.00" x2="261.55" y2="153.00" stroke="#262626" stroke-width="0.9"/>
<text x="258.65" y="155.10" font-size="6.3" fill="#3d3d3d" stroke="#3d3d3d" stroke-width="0.12" text-anchor="end" textLength="11" lengthAdjust="spacingAndGlyphs">0.25</text>
<line x1="270.30" y1="171.3" x2="270.30" y2="173.20" stroke="#262626" stroke-width="0.9"/>
<text x="270.30" y="177.90" font-size="5.9" fill="#3d3d3d" stroke="#3d3d3d" stroke-width="0.12" text-anchor="middle" textLength="3.0" lengthAdjust="spacingAndGlyphs">0</text>
<line x1="284.71" y1="171.3" x2="284.71" y2="173.20" stroke="#262626" stroke-width="0.9"/>
<text x="284.71" y="177.90" font-size="5.9" fill="#3d3d3d" stroke="#3d3d3d" stroke-width="0.12" text-anchor="middle" textLength="3.0" lengthAdjust="spacingAndGlyphs">6</text>
<line x1="299.12" y1="171.3" x2="299.12" y2="173.20" stroke="#262626" stroke-width="0.9"/>
<text x="299.12" y="177.90" font-size="5.9" fill="#3d3d3d" stroke="#3d3d3d" stroke-width="0.12" text-anchor="middle" textLength="6.0" lengthAdjust="spacingAndGlyphs">12</text>
<line x1="313.52" y1="171.3" x2="313.52" y2="173.20" stroke="#262626" stroke-width="0.9"/>
<text x="313.52" y="177.90" font-size="5.9" fill="#3d3d3d" stroke="#3d3d3d" stroke-width="0.12" text-anchor="middle" textLength="6.0" lengthAdjust="spacingAndGlyphs">18</text>
<line x1="327.93" y1="171.3" x2="327.93" y2="173.20" stroke="#262626" stroke-width="0.9"/>
<text x="327.93" y="177.90" font-size="5.9" fill="#3d3d3d" stroke="#3d3d3d" stroke-width="0.12" text-anchor="middle" textLength="6.0" lengthAdjust="spacingAndGlyphs">24</text>
<line x1="342.34" y1="171.3" x2="342.34" y2="173.20" stroke="#262626" stroke-width="0.9"/>
<text x="342.34" y="177.90" font-size="5.9" fill="#3d3d3d" stroke="#3d3d3d" stroke-width="0.12" text-anchor="middle" textLength="6.0" lengthAdjust="spacingAndGlyphs">30</text>
<line x1="356.75" y1="171.3" x2="356.75" y2="173.20" stroke="#262626" stroke-width="0.9"/>
<text x="356.75" y="177.90" font-size="5.9" fill="#3d3d3d" stroke="#3d3d3d" stroke-width="0.12" text-anchor="middle" textLength="6.0" lengthAdjust="spacingAndGlyphs">36</text>
<line x1="371.16" y1="171.3" x2="371.16" y2="173.20" stroke="#262626" stroke-width="0.9"/>
<text x="371.16" y="177.90" font-size="5.9" fill="#3d3d3d" stroke="#3d3d3d" stroke-width="0.12" text-anchor="middle" textLength="6.0" lengthAdjust="spacingAndGlyphs">42</text>
<line x1="385.57" y1="171.3" x2="385.57" y2="173.20" stroke="#262626" stroke-width="0.9"/>
<text x="385.57" y="177.90" font-size="5.9" fill="#3d3d3d" stroke="#3d3d3d" stroke-width="0.12" text-anchor="middle" textLength="6.0" lengthAdjust="spacingAndGlyphs">48</text>
<line x1="399.98" y1="171.3" x2="399.98" y2="173.20" stroke="#262626" stroke-width="0.9"/>
<text x="399.98" y="177.90" font-size="5.9" fill="#3d3d3d" stroke="#3d3d3d" stroke-width="0.12" text-anchor="middle" textLength="6.0" lengthAdjust="spacingAndGlyphs">54</text>
<line x1="414.38" y1="171.3" x2="414.38" y2="173.20" stroke="#262626" stroke-width="0.9"/>
<text x="414.38" y="177.90" font-size="5.9" fill="#3d3d3d" stroke="#3d3d3d" stroke-width="0.12" text-anchor="middle" textLength="6.0" lengthAdjust="spacingAndGlyphs">60</text>
<line x1="428.79" y1="171.3" x2="428.79" y2="173.20" stroke="#262626" stroke-width="0.9"/>
<text x="428.79" y="177.90" font-size="5.9" fill="#3d3d3d" stroke="#3d3d3d" stroke-width="0.12" text-anchor="middle" textLength="6.0" lengthAdjust="spacingAndGlyphs">66</text>
<line x1="443.20" y1="171.3" x2="443.20" y2="173.20" stroke="#262626" stroke-width="0.9"/>
<text x="443.20" y="177.90" font-size="5.9" fill="#3d3d3d" stroke="#3d3d3d" stroke-width="0.12" text-anchor="middle" textLength="6.0" lengthAdjust="spacingAndGlyphs">72</text>
<text x="356.77" y="185.80" font-size="7.3" fill="#1a1a1a" stroke="#1a1a1a" stroke-width="0.15" paint-order="stroke" text-anchor="middle" textLength="47" lengthAdjust="spacingAndGlyphs">Time (Months)</text>
<text transform="translate(246.15,96.25) rotate(-90)" font-size="7.6" fill="#1a1a1a" text-anchor="middle" textLength="80.8" lengthAdjust="spacingAndGlyphs">Recurrence-free survival</text>
<text x="273.80" y="155.30" font-size="6.7" fill="#1a1a1a" stroke="#1a1a1a" stroke-width="0.2" textLength="51.1" lengthAdjust="spacingAndGlyphs">Log rank P <0.001</text>
<text x="273.80" y="162.90" font-size="6.7" fill="#1a1a1a" stroke="#1a1a1a" stroke-width="0.2" textLength="94.2" lengthAdjust="spacingAndGlyphs">HR (95%CI): 0.515 (0.365 - 0.726)</text>
<text x="354.10" y="202.80" font-family="Liberation Sans, sans-serif" font-size="9.6" fill="#111" stroke="#111" stroke-width="0.35" text-anchor="middle">B</text>
<text x="313.72" y="11.95" font-size="7.4" fill="#1a1a1a" stroke="#1a1a1a" stroke-width="0.15" paint-order="stroke" textLength="38.7" lengthAdjust="spacingAndGlyphs">Hemoglobin</text>
<rect x="356.17" y="6.85" width="4.8" height="4.6" fill="#F8766D" fill-opacity="0.3" stroke="#F8766D" stroke-opacity="0.35" stroke-width="0.5"/>
<line x1="355.92" y1="9.20" x2="361.22" y2="9.20" stroke="#F8766D" stroke-width="0.9"/>
<line x1="358.57" y1="7.70" x2="358.57" y2="10.70" stroke="#F8766D" stroke-width="0.75"/>
<text x="364.72" y="10.85" font-size="5.8" fill="#1a1a1a" stroke="#1a1a1a" stroke-width="0.15" paint-order="stroke" textLength="10.5" lengthAdjust="spacingAndGlyphs">Low</text>
<rect x="378.67" y="6.85" width="4.8" height="4.6" fill="#00BFC4" fill-opacity="0.3" stroke="#00BFC4" stroke-opacity="0.35" stroke-width="0.5"/>
<line x1="378.42" y1="9.20" x2="383.72" y2="9.20" stroke="#00BFC4" stroke-width="0.9"/>
<line x1="381.07" y1="7.70" x2="381.07" y2="10.70" stroke="#00BFC4" stroke-width="0.75"/>
<text x="387.22" y="10.85" font-size="5.8" fill="#1a1a1a" stroke="#1a1a1a" stroke-width="0.15" paint-order="stroke" textLength="12.6" lengthAdjust="spacingAndGlyphs">High</text>
<path d="M502.1,28 L505,28.3 L506.1,28.3 L506.1,29.1 L508.3,29.1 L508.3,29.9 L509.4,29.9 L510.3,29.9 L510.3,32.2 L512,32.2 L512,34.6 L512.9,34.6 L513.8,34.6 L513.8,36.3 L515.4,36.3 L515.4,38 L516.3,38 L517.1,38 L517.1,40.6 L518.9,40.6 L518.9,43.2 L519.7,43.2 L520.6,43.2 L520.6,44.9 L522.3,44.9 L522.3,46.6 L523.2,46.6 L524.1,46.6 L524.1,48.3 L525.8,48.3 L525.8,50 L526.6,50 L527.5,50 L527.5,51.8 L529.1,51.8 L529.1,53.5 L530,53.5 L530.9,53.5 L530.9,55.2 L532.6,55.2 L532.6,56.9 L533.5,56.9 L534.4,56.9 L534.4,58.6 L536,58.6 L536,60.3 L536.9,60.3 L538,60.3 L538,65 L539.1,65 L540,65 L540,67.9 L541.7,67.9 L541.7,70.8 L542.6,70.8 L543.8,70.8 L543.8,72 L546.1,72 L546.1,73.2 L547.2,73.2 L548.1,73.2 L548.1,74.1 L550,74.1 L550,75.1 L551.9,75.1 L551.9,76 L553.8,76 L553.8,77 L555.7,77 L555.7,77.9 L556.6,77.9 L557.6,77.9 L557.6,79.1 L559.5,79.1 L559.5,80.2 L561.4,80.2 L561.4,81.4 L562.4,81.4 L563.3,81.4 L563.3,82 L565.1,82 L565.1,82.6 L566.8,82.6 L566.8,83.1 L568.6,83.1 L568.6,83.7 L569.5,83.7 L570.6,83.7 L570.6,86.7 L573,86.7 L573,89.6 L574.1,89.6 L575,89.6 L575,90.4 L576.8,90.4 L576.8,91.3 L578.5,91.3 L578.5,92.1 L580.3,92.1 L580.3,93 L581.2,93 L582.2,93 L582.2,93.4 L584.2,93.4 L584.2,93.7 L586.1,93.7 L586.1,94.1 L588.1,94.1 L588.1,94.4 L590.1,94.4 L590.1,94.8 L592,94.8 L592,95.1 L594,95.1 L594,95.5 L595,95.5 L595.8,95.5 L595.8,97.5 L597.2,97.5 L597.2,99.4 L598,99.4 L599,99.4 L599,99.9 L600.9,99.9 L600.9,100.3 L602.8,100.3 L602.8,100.8 L603.8,100.8 L604.9,100.8 L604.9,101.9 L607.1,101.9 L607.1,103 L608.2,103 L608.9,103 L608.9,106.7 L609.6,106.7 L610.5,106.7 L610.5,107.7 L612.2,107.7 L612.2,108.6 L613.9,108.6 L613.9,109.6 L614.7,109.6 L633.7,109.6 L633.7,157.8 L614.3,157.8 L614.3,147.7 L609,147.7 L609,141 L603.7,141 L603.7,134.4 L598.8,134.4 L598.8,130.5 L597.8,130.5 L597.8,130.2 L596,130.2 L596,130 L595,130 L595,124.9 L580.4,124.9 L579.7,124.9 L579.7,123.5 L579,123.5 L577.9,123.5 L577.9,121.7 L575.7,121.7 L575.7,119.8 L574.6,119.8 L573.5,119.8 L573.5,114 L572.4,114 L571,114 L571,109.4 L569.5,109.4 L568.5,109.4 L568.5,108.6 L566.5,108.6 L566.5,107.9 L564.6,107.9 L564.6,107.1 L563.6,107.1 L562.5,107.1 L562.5,103.6 L561.3,103.6 L560.4,103.6 L560.4,103.1 L558.5,103.1 L558.5,102.7 L556.6,102.7 L556.6,102.2 L554.7,102.2 L554.7,101.8 L552.8,101.8 L552.8,101.3 L551.9,101.3 L550.8,101.3 L550.8,96.6 L549.6,96.6 L548.7,96.6 L548.7,96.1 L546.8,96.1 L546.8,95.6 L544.9,95.6 L544.9,95.2 L543,95.2 L543,94.7 L541.1,94.7 L541.1,94.2 L540.2,94.2 L539,94.2 L539,86.1 L537.9,86.1 L536.9,86.1 L536.9,83.7 L535,83.7 L535,81.4 L533,81.4 L533,79 L532,79 L531.1,79 L531.1,77.1 L529.4,77.1 L529.4,75.2 L527.6,75.2 L527.6,73.4 L525.9,73.4 L525.9,71.5 L525,71.5 L524.1,71.5 L524.1,68.3 L522.4,68.3 L522.4,65.2 L520.6,65.2 L520.6,62 L519.7,62 L519.3,62 L519.3,56.9 L518.9,56.9 L517.6,56.9 L517.6,50 L516.3,50 L515,50 L515,44.9 L513.7,44.9 L512.5,44.9 L512.5,38 L511.2,38 L510.3,38 L510.3,31.2 L509.4,31.2 L508.5,31.2 L508.5,30.4 L506.9,30.4 L506.9,29.5 L506,29.5 L505,29.5 L505,29.1 L503.1,29.1 L503.1,28.8 L502.1,28.8Z" fill="#F8766D" fill-opacity="0.3"/>
<path d="M502.1,28 L503.2,28 L503.2,28.1 L505.4,28.1 L505.4,28.3 L507.6,28.3 L507.6,28.4 L509.8,28.4 L509.8,28.6 L510.9,28.6 L511.8,28.6 L511.8,29.9 L513.7,29.9 L513.7,31.2 L514.6,31.2 L515.5,31.2 L515.5,32.5 L517.1,32.5 L517.1,33.7 L518,33.7 L518.9,33.7 L518.9,35 L520.6,35 L520.6,36.3 L521.5,36.3 L522.4,36.3 L522.4,38.5 L524,38.5 L524,40.6 L524.9,40.6 L525.8,40.6 L525.8,42.8 L527.4,42.8 L527.4,44.9 L528.3,44.9 L529.2,44.9 L529.2,45.8 L530.9,45.8 L530.9,46.6 L532.6,46.6 L532.6,47.5 L533.5,47.5 L534.4,47.5 L534.4,47.8 L536,47.8 L536,48 L537.8,48 L537.8,48.3 L538.6,48.3 L539.7,48.3 L539.7,49.6 L541.8,49.6 L541.8,50.9 L542.9,50.9 L543.7,50.9 L543.7,51.8 L545.2,51.8 L545.2,52.6 L546,52.6 L547,52.6 L547,53.2 L548.9,53.2 L548.9,53.8 L550.8,53.8 L550.8,54.4 L551.8,54.4 L552.7,54.4 L552.7,55.1 L554.6,55.1 L554.6,55.8 L556.5,55.8 L556.5,56.5 L558.4,56.5 L558.4,57.2 L560.3,57.2 L560.3,57.9 L561.2,57.9 L562.1,57.9 L562.1,58.6 L564,58.6 L564,59.3 L565.9,59.3 L565.9,60 L567.7,60 L567.7,60.7 L569.6,60.7 L569.6,61.4 L570.5,61.4 L571.4,61.4 L571.4,62.4 L573.3,62.4 L573.3,63.4 L575.2,63.4 L575.2,64.3 L577.1,64.3 L577.1,65.3 L578,65.3 L578.9,65.3 L578.9,65.5 L580.7,65.5 L580.7,65.7 L582.6,65.7 L582.6,65.9 L584.4,65.9 L584.4,66.1 L585.3,66.1 L586.3,66.1 L586.3,66.5 L588.4,66.5 L588.4,66.9 L590.4,66.9 L590.4,67.4 L592.4,67.4 L592.4,67.8 L594.5,67.8 L594.5,68.2 L595.5,68.2 L596.5,68.2 L596.5,68.5 L598.5,68.5 L598.5,68.7 L600.4,68.7 L600.4,69 L601.4,69 L602.2,69 L602.2,70.9 L604,70.9 L604,72.9 L605.6,72.9 L605.6,74.8 L606.5,74.8 L607.5,74.8 L607.5,74.9 L609.5,74.9 L609.5,74.9 L611.4,74.9 L611.4,75 L613.4,75 L613.4,75.1 L615.4,75.1 L615.4,75.1 L617.3,75.1 L617.3,75.2 L619.3,75.2 L619.3,75.3 L621.3,75.3 L621.3,75.4 L623.2,75.4 L623.2,75.4 L625.2,75.4 L625.2,75.5 L626.2,75.5 L626.5,75.5 L626.5,77 L626.9,77 L663,77 L663,109.8 L626.3,109.8 L626.3,100.8 L606.7,100.6 L605.8,100.6 L605.8,97.4 L604,97.4 L604,94.1 L602.3,94.1 L602.3,90.9 L601.4,90.9 L600.4,90.9 L600.4,89.7 L598.5,89.7 L598.5,88.4 L596.5,88.4 L596.5,87.2 L595.5,87.2 L594.5,87.2 L594.5,86.9 L592.4,86.9 L592.4,86.6 L590.4,86.6 L590.4,86.4 L588.4,86.4 L588.4,86.1 L586.3,86.1 L586.3,85.8 L585.3,85.8 L584.2,85.8 L584.2,85.4 L581.9,85.4 L581.9,84.9 L579.6,84.9 L579.6,84.5 L578.5,84.5 L577.5,84.5 L577.5,83.4 L575.5,83.4 L575.5,82.4 L573.6,82.4 L573.6,81.3 L571.6,81.3 L571.6,80.2 L570.6,80.2 L569.5,80.2 L569.5,78.9 L567.4,78.9 L567.4,77.5 L565.3,77.5 L565.3,76.2 L563.2,76.2 L563.2,74.8 L561.1,74.8 L561.1,73.5 L560,73.5 L559,73.5 L559,72.5 L557,72.5 L557,71.5 L555,71.5 L555,70.5 L553,70.5 L553,69.5 L552,69.5 L551.1,69.5 L551.1,68.2 L549.3,68.2 L549.3,67 L547.5,67 L547.5,65.8 L545.7,65.8 L545.7,64.5 L544.8,64.5 L543.7,64.5 L543.7,63.2 L541.4,63.2 L541.4,62 L540.3,62 L539.2,62 L539.2,60.8 L537.1,60.8 L537.1,59.5 L536,59.5 L535.1,59.5 L535.1,58.6 L533.5,58.6 L533.5,57.8 L531.8,57.8 L531.8,56.9 L530.9,56.9 L529.8,56.9 L529.8,54.8 L527.7,54.8 L527.7,52.6 L526.6,52.6 L525.8,52.6 L525.8,50.5 L524.1,50.5 L524.1,48.3 L523.2,48.3 L522.3,48.3 L522.3,45.8 L520.6,45.8 L520.6,43.2 L519.7,43.2 L518.9,43.2 L518.9,41 L517.1,41 L517.1,38.9 L516.3,38.9 L515.4,38.9 L515.4,36.8 L513.8,36.8 L513.8,34.6 L512.9,34.6 L511.9,34.6 L511.9,29.8 L510.9,29.8 L509.8,29.8 L509.8,29.6 L507.6,29.6 L507.6,29.3 L505.4,29.3 L505.4,29.1 L503.2,29.1 L503.2,28.8 L502.1,28.8Z" fill="#00BFC4" fill-opacity="0.3"/>
<path d="M502.1,28.4 L503.1,28.4 L503.1,28.9 L505,28.9 L505,29.4 L506,29.4 L506.9,29.4 L506.9,29.9 L508.5,29.9 L508.5,30.3 L509.4,30.3 L510.3,30.3 L510.3,34.6 L511.2,34.6 L512,34.6 L512,36.8 L513.8,36.8 L513.8,38.9 L514.6,38.9 L515.9,38.9 L515.9,43.2 L517.2,43.2 L518,43.2 L518,49.2 L518.9,49.2 L519.8,49.2 L519.8,55.2 L520.6,55.2 L521.9,55.2 L521.9,60.3 L523.2,60.3 L524,60.3 L524,62 L524.9,62 L525.5,62 L525.5,64.5 L526.1,64.5 L527,64.5 L527,65.9 L528.7,65.9 L528.7,67.3 L529.6,67.3 L530.8,67.3 L530.8,70.8 L532,70.8 L532.9,70.8 L532.9,72.6 L534.7,72.6 L534.7,74.4 L536.4,74.4 L536.4,76.1 L538.2,76.1 L538.2,77.9 L539.1,77.9 L540.2,77.9 L540.2,83.7 L541.4,83.7 L542.3,83.7 L542.3,84.3 L544,84.3 L544,84.9 L545.8,84.9 L545.8,85.5 L547.5,85.5 L547.5,86.1 L548.4,86.1 L549.6,86.1 L549.6,88.4 L551.9,88.4 L551.9,90.7 L553.1,90.7 L554,90.7 L554,91.1 L555.9,91.1 L555.9,91.4 L557.8,91.4 L557.8,91.8 L559.6,91.8 L559.6,92.1 L561.5,92.1 L561.5,92.5 L562.4,92.5 L563.6,92.5 L563.6,95.4 L564.8,95.4 L565.8,95.4 L565.8,95.8 L567.7,95.8 L567.7,96.2 L569.6,96.2 L569.6,96.6 L570.6,96.6 L571.8,96.6 L571.8,104.5 L573,104.5 L573.9,104.5 L573.9,106.2 L575.8,106.2 L575.8,107.8 L577.6,107.8 L577.6,109.5 L579.5,109.5 L579.5,111.1 L580.4,111.1 L593.6,111.1 L594.7,111.1 L594.7,114 L595.8,114 L596.7,114 L596.7,116.2 L598.5,116.2 L598.5,118.4 L599.4,118.4 L600.3,118.4 L600.3,118.8 L602.2,118.8 L602.2,119.1 L603.1,119.1 L603.5,119.1 L603.5,124.2 L603.8,124.2 L604.6,124.2 L604.6,124.4 L606.3,124.4 L606.3,124.7 L608,124.7 L608,124.9 L608.9,124.9 L609.2,124.9 L609.2,130.2 L609.6,130.2 L614.7,130.4 L614.7,138.3 L634,138.3" fill="none" stroke="#F8766D" stroke-width="1.2" stroke-linejoin="miter"/>
<path d="M516.30,40.01v3.4M515.10,41.71h2.4M522.26,56.75v3.4M521.06,58.45h2.4M527.33,63.79v3.4M526.13,65.49h2.4M530.59,67.04v3.4M529.39,68.74h2.4M534.17,71.27v3.4M532.97,72.97h2.4M538.88,75.98v3.4M537.68,77.68h2.4M545.23,83.31v3.4M544.03,85.01h2.4M553.19,89.02v3.4M551.99,90.72h2.4M555.71,89.51v3.4M554.51,91.21h2.4M563.67,92.33v3.4M562.47,94.03h2.4M568.21,94.41v3.4M567.01,96.11h2.4M572.02,99.56v3.4M570.82,101.26h2.4M577.94,107.20v3.4M576.74,108.90h2.4M581.57,109.40v3.4M580.37,111.10h2.4M589.44,109.40v3.4M588.24,111.10h2.4M596.79,113.51v3.4M595.59,115.21h2.4M601.72,117.14v3.4M600.52,118.84h2.4M606.37,122.85v3.4M605.17,124.55h2.4M609.69,128.50v3.4M608.49,130.20h2.4M613.51,128.65v3.4M612.31,130.35h2.4M620.26,136.60v3.4M619.06,138.30h2.4M627.79,136.60v3.4M626.59,138.30h2.4M634.00,136.60v3.4M632.80,138.30h2.4" fill="none" stroke="#F8766D" stroke-width="0.75"/>
<path d="M502.1,28.4 L503.1,28.4 L503.1,28.7 L505,28.7 L505,29 L506,29 L506.9,29 L506.9,29.3 L508.6,29.3 L508.6,29.6 L510.3,29.6 L510.3,29.9 L511.2,29.9 L512,29.9 L512,32.9 L512.9,32.9 L513.8,32.9 L513.8,34.1 L515.4,34.1 L515.4,35.4 L516.3,35.4 L517.1,35.4 L517.1,37.5 L518.9,37.5 L518.9,39.7 L519.7,39.7 L520.6,39.7 L520.6,41.5 L522.3,41.5 L522.3,43.2 L523.2,43.2 L524.1,43.2 L524.1,45.8 L525.8,45.8 L525.8,48.3 L526.6,48.3 L527.7,48.3 L527.7,50.5 L529.8,50.5 L529.8,52.6 L530.9,52.6 L532,52.6 L532,53.2 L534.1,53.2 L534.1,53.9 L535.2,53.9 L538.6,53.9 L539.5,53.9 L539.5,55 L541.1,55 L541.1,56 L542,56 L543,56 L543,57.8 L545,57.8 L545,59.5 L546,59.5 L546.9,59.5 L546.9,60.4 L548.6,60.4 L548.6,61.3 L550.4,61.3 L550.4,62.3 L552.1,62.3 L552.1,63.2 L553,63.2 L554,63.2 L554,64 L555.9,64 L555.9,64.7 L557.8,64.7 L557.8,65.5 L558.8,65.5 L559.8,65.5 L559.8,66.3 L561.8,66.3 L561.8,67.1 L563.7,67.1 L563.7,67.9 L564.7,67.9 L565.7,67.9 L565.7,68.8 L567.6,68.8 L567.6,69.6 L569.5,69.6 L569.5,70.5 L570.5,70.5 L571.4,70.5 L571.4,71.8 L573.2,71.8 L573.2,73.2 L574.1,73.2 L575.1,73.2 L575.1,74.5 L577.2,74.5 L577.2,75.8 L578.3,75.8 L579.4,75.8 L579.4,76 L581.6,76 L581.6,76.3 L583.7,76.3 L583.7,76.5 L585.9,76.5 L585.9,76.8 L587,76.8 L587.9,76.8 L587.9,77.1 L589.8,77.1 L589.8,77.4 L591.7,77.4 L591.7,77.7 L592.6,77.7 L593.7,77.7 L593.7,77.9 L595.9,77.9 L595.9,78.1 L598.1,78.1 L598.1,78.3 L600.3,78.3 L600.3,78.5 L601.4,78.5 L602.4,78.5 L602.4,81.9 L604.3,81.9 L604.3,85.3 L606.2,85.3 L606.2,88.7 L607.2,88.7 L626.2,88.7 L626.2,94.5 L664.1,94.5" fill="none" stroke="#00BFC4" stroke-width="1.2" stroke-linejoin="miter"/>
<path d="M516.30,33.70v3.4M515.10,35.40h2.4M521.39,39.69v3.4M520.19,41.39h2.4M527.50,47.50v3.4M526.30,49.20h2.4M532.25,51.31v3.4M531.05,53.01h2.4M536.37,52.20v3.4M535.17,53.90h2.4M540.49,53.37v3.4M539.29,55.07h2.4M543.48,55.59v3.4M542.28,57.29h2.4M547.33,58.51v3.4M546.13,60.21h2.4M551.63,60.77v3.4M550.43,62.47h2.4M554.15,61.95v3.4M552.95,63.65h2.4M557.28,63.20v3.4M556.08,64.90h2.4M562.58,65.34v3.4M561.38,67.04h2.4M567.78,67.58v3.4M566.58,69.28h2.4M574.37,71.67v3.4M573.17,73.37h2.4M582.08,74.53v3.4M580.88,76.23h2.4M586.45,75.04v3.4M585.25,76.74h2.4M591.28,75.79v3.4M590.08,77.49h2.4M594.61,76.18v3.4M593.41,77.88h2.4M598.31,76.52v3.4M597.11,78.22h2.4M605.57,84.13v3.4M604.37,85.83h2.4M612.58,87.00v3.4M611.38,88.70h2.4M619.17,87.00v3.4M617.97,88.70h2.4M623.53,87.00v3.4M622.33,88.70h2.4M630.50,92.80v3.4M629.30,94.50h2.4M634.16,92.80v3.4M632.96,94.50h2.4M641.16,92.80v3.4M639.96,94.50h2.4M647.40,92.80v3.4M646.20,94.50h2.4M651.85,92.80v3.4M650.65,94.50h2.4M656.63,92.80v3.4M655.43,94.50h2.4M662.18,92.80v3.4M660.98,94.50h2.4M664.10,92.80v3.4M662.90,94.50h2.4" fill="none" stroke="#00BFC4" stroke-width="0.75"/>
<line x1="493.55" y1="21.7" x2="493.55" y2="172.90" stroke="#4a4a4a" stroke-width="1.2"/>
<line x1="492.95" y1="172.3" x2="683.8" y2="172.3" stroke="#3a3a3a" stroke-width="1.2"/>
<line x1="491.65" y1="28.40" x2="493.55" y2="28.40" stroke="#262626" stroke-width="0.9"/>
<text x="490.65" y="30.50" font-size="6.3" fill="#3d3d3d" stroke="#3d3d3d" stroke-width="0.12" text-anchor="end" textLength="11" lengthAdjust="spacingAndGlyphs">1.00</text>
<line x1="491.65" y1="69.97" x2="493.55" y2="69.97" stroke="#262626" stroke-width="0.9"/>
<text x="490.65" y="72.07" font-size="6.3" fill="#3d3d3d" stroke="#3d3d3d" stroke-width="0.12" text-anchor="end" textLength="11" lengthAdjust="spacingAndGlyphs">0.75</text>
<line x1="491.65" y1="111.53" x2="493.55" y2="111.53" stroke="#262626" stroke-width="0.9"/>
<text x="490.65" y="113.63" font-size="6.3" fill="#3d3d3d" stroke="#3d3d3d" stroke-width="0.12" text-anchor="end" textLength="11" lengthAdjust="spacingAndGlyphs">0.50</text>
<line x1="491.65" y1="153.10" x2="493.55" y2="153.10" stroke="#262626" stroke-width="0.9"/>
<text x="490.65" y="155.20" font-size="6.3" fill="#3d3d3d" stroke="#3d3d3d" stroke-width="0.12" text-anchor="end" textLength="11" lengthAdjust="spacingAndGlyphs">0.25</text>
<line x1="502.30" y1="172.3" x2="502.30" y2="174.20" stroke="#262626" stroke-width="0.9"/>
<text x="502.30" y="178.90" font-size="5.9" fill="#3d3d3d" stroke="#3d3d3d" stroke-width="0.12" text-anchor="middle" textLength="3.0" lengthAdjust="spacingAndGlyphs">0</text>
<line x1="516.70" y1="172.3" x2="516.70" y2="174.20" stroke="#262626" stroke-width="0.9"/>
<text x="516.70" y="178.90" font-size="5.9" fill="#3d3d3d" stroke="#3d3d3d" stroke-width="0.12" text-anchor="middle" textLength="3.0" lengthAdjust="spacingAndGlyphs">6</text>
<line x1="531.10" y1="172.3" x2="531.10" y2="174.20" stroke="#262626" stroke-width="0.9"/>
<text x="531.10" y="178.90" font-size="5.9" fill="#3d3d3d" stroke="#3d3d3d" stroke-width="0.12" text-anchor="middle" textLength="6.0" lengthAdjust="spacingAndGlyphs">12</text>
<line x1="545.50" y1="172.3" x2="545.50" y2="174.20" stroke="#262626" stroke-width="0.9"/>
<text x="545.50" y="178.90" font-size="5.9" fill="#3d3d3d" stroke="#3d3d3d" stroke-width="0.12" text-anchor="middle" textLength="6.0" lengthAdjust="spacingAndGlyphs">18</text>
<line x1="559.90" y1="172.3" x2="559.90" y2="174.20" stroke="#262626" stroke-width="0.9"/>
<text x="559.90" y="178.90" font-size="5.9" fill="#3d3d3d" stroke="#3d3d3d" stroke-width="0.12" text-anchor="middle" textLength="6.0" lengthAdjust="spacingAndGlyphs">24</text>
<line x1="574.30" y1="172.3" x2="574.30" y2="174.20" stroke="#262626" stroke-width="0.9"/>
<text x="574.30" y="178.90" font-size="5.9" fill="#3d3d3d" stroke="#3d3d3d" stroke-width="0.12" text-anchor="middle" textLength="6.0" lengthAdjust="spacingAndGlyphs">30</text>
<line x1="588.70" y1="172.3" x2="588.70" y2="174.20" stroke="#262626" stroke-width="0.9"/>
<text x="588.70" y="178.90" font-size="5.9" fill="#3d3d3d" stroke="#3d3d3d" stroke-width="0.12" text-anchor="middle" textLength="6.0" lengthAdjust="spacingAndGlyphs">36</text>
<line x1="603.10" y1="172.3" x2="603.10" y2="174.20" stroke="#262626" stroke-width="0.9"/>
<text x="603.10" y="178.90" font-size="5.9" fill="#3d3d3d" stroke="#3d3d3d" stroke-width="0.12" text-anchor="middle" textLength="6.0" lengthAdjust="spacingAndGlyphs">42</text>
<line x1="617.50" y1="172.3" x2="617.50" y2="174.20" stroke="#262626" stroke-width="0.9"/>
<text x="617.50" y="178.90" font-size="5.9" fill="#3d3d3d" stroke="#3d3d3d" stroke-width="0.12" text-anchor="middle" textLength="6.0" lengthAdjust="spacingAndGlyphs">48</text>
<line x1="631.90" y1="172.3" x2="631.90" y2="174.20" stroke="#262626" stroke-width="0.9"/>
<text x="631.90" y="178.90" font-size="5.9" fill="#3d3d3d" stroke="#3d3d3d" stroke-width="0.12" text-anchor="middle" textLength="6.0" lengthAdjust="spacingAndGlyphs">54</text>
<line x1="646.30" y1="172.3" x2="646.30" y2="174.20" stroke="#262626" stroke-width="0.9"/>
<text x="646.30" y="178.90" font-size="5.9" fill="#3d3d3d" stroke="#3d3d3d" stroke-width="0.12" text-anchor="middle" textLength="6.0" lengthAdjust="spacingAndGlyphs">60</text>
<line x1="660.70" y1="172.3" x2="660.70" y2="174.20" stroke="#262626" stroke-width="0.9"/>
<text x="660.70" y="178.90" font-size="5.9" fill="#3d3d3d" stroke="#3d3d3d" stroke-width="0.12" text-anchor="middle" textLength="6.0" lengthAdjust="spacingAndGlyphs">66</text>
<line x1="675.10" y1="172.3" x2="675.10" y2="174.20" stroke="#262626" stroke-width="0.9"/>
<text x="675.10" y="178.90" font-size="5.9" fill="#3d3d3d" stroke="#3d3d3d" stroke-width="0.12" text-anchor="middle" textLength="6.0" lengthAdjust="spacingAndGlyphs">72</text>
<text x="588.67" y="186.80" font-size="7.3" fill="#1a1a1a" stroke="#1a1a1a" stroke-width="0.15" paint-order="stroke" text-anchor="middle" textLength="47" lengthAdjust="spacingAndGlyphs">Time (Months)</text>
<text transform="translate(478.15,97.00) rotate(-90)" font-size="7.6" fill="#1a1a1a" text-anchor="middle" textLength="80.8" lengthAdjust="spacingAndGlyphs">Recurrence-free survival</text>
<text x="505.80" y="155.40" font-size="6.7" fill="#1a1a1a" stroke="#1a1a1a" stroke-width="0.2" textLength="51.1" lengthAdjust="spacingAndGlyphs">Log rank P <0.001</text>
<text x="505.80" y="163.00" font-size="6.7" fill="#1a1a1a" stroke="#1a1a1a" stroke-width="0.2" textLength="94.2" lengthAdjust="spacingAndGlyphs">HR (95%CI): 0.492 (0.359 - 0.675)</text>
<text x="585.50" y="203.80" font-family="Liberation Sans, sans-serif" font-size="9.6" fill="#111" stroke="#111" stroke-width="0.35" text-anchor="middle">C</text>
<text x="551.42" y="12.45" font-size="7.4" fill="#1a1a1a" stroke="#1a1a1a" stroke-width="0.15" paint-order="stroke" textLength="27.1" lengthAdjust="spacingAndGlyphs">Albumin</text>
<rect x="582.27" y="7.35" width="4.8" height="4.6" fill="#F8766D" fill-opacity="0.3" stroke="#F8766D" stroke-opacity="0.35" stroke-width="0.5"/>
<line x1="582.02" y1="9.70" x2="587.32" y2="9.70" stroke="#F8766D" stroke-width="0.9"/>
<line x1="584.67" y1="8.20" x2="584.67" y2="11.20" stroke="#F8766D" stroke-width="0.75"/>
<text x="590.82" y="11.35" font-size="5.8" fill="#1a1a1a" stroke="#1a1a1a" stroke-width="0.15" paint-order="stroke" textLength="10.5" lengthAdjust="spacingAndGlyphs">Low</text>
<rect x="604.77" y="7.35" width="4.8" height="4.6" fill="#00BFC4" fill-opacity="0.3" stroke="#00BFC4" stroke-opacity="0.35" stroke-width="0.5"/>
<line x1="604.52" y1="9.70" x2="609.82" y2="9.70" stroke="#00BFC4" stroke-width="0.9"/>
<line x1="607.17" y1="8.20" x2="607.17" y2="11.20" stroke="#00BFC4" stroke-width="0.75"/>
<text x="613.32" y="11.35" font-size="5.8" fill="#1a1a1a" stroke="#1a1a1a" stroke-width="0.15" paint-order="stroke" textLength="12.6" lengthAdjust="spacingAndGlyphs">High</text>
<path d="M31.1,244.3 L32.1,244.3 L32.1,244.5 L34.2,244.5 L34.2,244.8 L36.2,244.8 L36.2,245 L38.3,245 L38.3,245.2 L39.3,245.2 L40.1,245.2 L40.1,247.6 L41.6,247.6 L41.6,250 L42.4,250 L43.8,250 L43.8,253 L45.3,253 L46.8,253 L46.8,258 L48.2,258 L49.1,258 L49.1,260.2 L50.8,260.2 L50.8,262.5 L51.7,262.5 L53.2,262.5 L53.2,266 L54.6,266 L56,266 L56,269.5 L57.5,269.5 L58.4,269.5 L58.4,271 L60.1,271 L60.1,272.5 L61,272.5 L62,272.5 L62,273.6 L64,273.6 L64,274.7 L65,274.7 L65.9,274.7 L65.9,276.1 L67.6,276.1 L67.6,277.6 L69.4,277.6 L69.4,279 L71.1,279 L71.1,280.5 L72,280.5 L72.9,280.5 L72.9,281.7 L74.6,281.7 L74.6,282.9 L76.4,282.9 L76.4,284 L78.1,284 L78.1,285.2 L79,285.2 L79.9,285.2 L79.9,286.1 L81.8,286.1 L81.8,287.1 L83.7,287.1 L83.7,288 L85.6,288 L85.6,289 L87.5,289 L87.5,289.9 L88.4,289.9 L89.5,289.9 L89.5,290.7 L91.7,290.7 L91.7,291.6 L93.9,291.6 L93.9,292.4 L95,292.4 L96,292.4 L96,293 L97.8,293 L97.8,293.6 L99.8,293.6 L99.8,294.1 L101.7,294.1 L101.7,294.7 L103.5,294.7 L103.5,295.3 L104.5,295.3 L105.5,295.3 L105.5,296.6 L107.4,296.6 L107.4,298 L109.3,298 L109.3,299.3 L111.2,299.3 L111.2,300.7 L113.1,300.7 L113.1,302 L114.1,302 L115,302 L115,302.6 L116.9,302.6 L116.9,303.1 L118.8,303.1 L118.8,303.7 L120.8,303.7 L120.8,304.2 L122.6,304.2 L122.6,304.8 L123.6,304.8 L124.6,304.8 L124.6,305.3 L126.5,305.3 L126.5,305.8 L128.4,305.8 L128.4,306.2 L130.3,306.2 L130.3,306.7 L131.3,306.7 L132.2,306.7 L132.2,309.1 L134.2,309.1 L134.2,311.5 L135.1,311.5 L136.6,311.5 L136.6,313 L138,313 L139.2,313 L139.2,315.8 L141.4,315.8 L141.4,318.5 L142.6,318.5 L142.9,318.5 L142.9,323.2 L143.2,323.2 L162.7,323.2 L162.8,374.7 L143.1,374.7 L143.1,365.9 L138.1,365.9 L138.1,358.8 L135.5,358.8 L134.8,358.8 L134.8,352.2 L134.1,352.2 L133.5,352.2 L133.5,344.9 L132.9,344.9 L132.6,344.9 L132.6,337.3 L132.3,337.3 L123.9,337.1 L123,337.1 L123,336.5 L121.1,336.5 L121.1,335.9 L119.2,335.9 L119.2,335.3 L117.2,335.3 L117.2,334.7 L115.4,334.7 L115.4,334.2 L113.5,334.2 L113.5,333.6 L111.5,333.6 L111.5,333 L109.7,333 L109.7,332.4 L108.7,332.4 L107.7,332.4 L107.7,328.9 L105.8,328.9 L105.8,325.4 L103.9,325.4 L103.9,321.9 L102.9,321.9 L101.7,321.9 L101.7,318.9 L99.4,318.9 L99.4,316 L98.2,316 L97.2,316 L97.2,315.1 L95.1,315.1 L95.1,314.2 L93.1,314.2 L93.1,313.4 L91,313.4 L91,312.5 L90,312.5 L89.2,312.5 L89.2,314.4 L88.4,314.4 L87.4,314.4 L87.4,313.2 L85.5,313.2 L85.5,312.1 L83.5,312.1 L83.5,310.9 L82.5,310.9 L81.5,310.9 L81.5,309 L79.6,309 L79.6,307 L77.7,307 L77.7,305.1 L76.7,305.1 L75.8,305.1 L75.8,303.9 L74.1,303.9 L74.1,302.8 L72.3,302.8 L72.3,301.6 L70.6,301.6 L70.6,300.4 L69.7,300.4 L68.5,300.4 L68.5,296.3 L66.2,296.3 L66.2,292.2 L65,292.2 L63.9,292.2 L63.9,290.3 L61.7,290.3 L61.7,288.4 L59.5,288.4 L59.5,286.5 L58.4,286.5 L57.4,286.5 L57.4,284.1 L55.5,284.1 L55.5,281.8 L53.6,281.8 L53.6,279.4 L51.7,279.4 L51.7,277 L50.7,277 L49.8,277 L49.8,273.5 L47.9,273.5 L47.9,270 L46,270 L46,266.5 L45,266.5 L44.2,266.5 L44.2,261.8 L42.8,261.8 L42.8,257 L42,257 L41.2,257 L41.2,252.5 L39.5,252.5 L39.5,248 L38.7,248 L37.5,248 L37.5,246.8 L35.2,246.8 L35.2,245.5 L34,245.5 L32.5,245.5 L32.5,245.1 L31.1,245.1Z" fill="#F8766D" fill-opacity="0.3"/>
<path d="M31.1,244.3 L39.3,244.6 L40.2,244.6 L40.2,245.4 L41.9,245.4 L41.9,246.2 L43.6,246.2 L43.6,247 L44.5,247 L45.7,247 L45.7,249.3 L48,249.3 L48,251.7 L49.2,251.7 L50.4,251.7 L50.4,255.2 L52.7,255.2 L52.7,258.7 L53.9,258.7 L55.2,258.7 L55.2,262.6 L56.5,262.6 L57.5,262.6 L57.5,264.1 L59.3,264.1 L59.3,265.5 L60.3,265.5 L61.4,265.5 L61.4,266.5 L63.6,266.5 L63.6,267.4 L65.9,267.4 L65.9,268.4 L67,268.4 L68.1,268.4 L68.1,269.7 L70.3,269.7 L70.3,270.9 L72.5,270.9 L72.5,272.2 L73.6,272.2 L74.7,272.2 L74.7,273 L76.9,273 L76.9,273.9 L79.1,273.9 L79.1,274.7 L80.2,274.7 L81.2,274.7 L81.2,275.6 L83.3,275.6 L83.3,276.4 L85.3,276.4 L85.3,277.3 L87.4,277.3 L87.4,278.2 L88.4,278.2 L89.5,278.2 L89.5,279.4 L91.7,279.4 L91.7,280.7 L93.9,280.7 L93.9,281.9 L95,281.9 L96,281.9 L96,282.2 L97.8,282.2 L97.8,282.6 L99.8,282.6 L99.8,282.9 L100.7,282.9 L102.2,282.9 L102.2,284.3 L103.6,284.3 L104.6,284.3 L104.6,284.6 L106.8,284.6 L106.8,284.9 L108.8,284.9 L108.8,285.1 L110.9,285.1 L110.9,285.4 L113,285.4 L113,285.7 L114.1,285.7 L115,285.7 L115,286.1 L116.9,286.1 L116.9,286.5 L118.8,286.5 L118.8,286.8 L120.8,286.8 L120.8,287.2 L122.6,287.2 L122.6,287.6 L123.6,287.6 L124.7,287.6 L124.7,288.2 L127,288.2 L127,288.9 L129.2,288.9 L129.2,289.5 L130.3,289.5 L131.8,289.5 L131.8,293 L133.2,293 L134.2,293 L134.2,293.1 L136.2,293.1 L136.2,293.1 L138.2,293.1 L138.2,293.2 L140.2,293.2 L140.2,293.2 L142.2,293.2 L142.2,293.3 L144.2,293.3 L144.2,293.3 L146.2,293.3 L146.2,293.4 L148.2,293.4 L148.2,293.4 L150.2,293.4 L150.2,293.5 L152.2,293.5 L152.2,293.5 L154.2,293.5 L154.2,293.6 L155.2,293.6 L155.4,293.6 L155.4,295.2 L155.7,295.2 L192.1,295.2 L192.1,326.7 L154.9,326.7 L154.9,317.8 L138,317.5 L136.6,317.5 L136.6,316.3 L135.1,316.3 L134.2,316.3 L134.2,313.4 L132.2,313.4 L132.2,310.5 L131.3,310.5 L130.3,310.5 L130.3,309.8 L128.4,309.8 L128.4,309.1 L126.5,309.1 L126.5,308.4 L124.6,308.4 L124.6,307.7 L123.6,307.7 L122.6,307.7 L122.6,307.3 L120.8,307.3 L120.8,306.9 L118.8,306.9 L118.8,306.6 L116.9,306.6 L116.9,306.2 L115,306.2 L115,305.8 L114.1,305.8 L113.1,305.8 L113.1,305.4 L111.2,305.4 L111.2,305 L109.3,305 L109.3,304.7 L107.4,304.7 L107.4,304.3 L105.5,304.3 L105.5,303.9 L104.5,303.9 L103.5,303.9 L103.5,303.3 L101.7,303.3 L101.7,302.7 L99.8,302.7 L99.8,302.2 L97.8,302.2 L97.8,301.6 L96,301.6 L96,301 L95,301 L93.9,301 L93.9,299.1 L91.7,299.1 L91.7,297.2 L89.4,297.2 L89.4,295.3 L87.2,295.3 L87.2,293.4 L86.1,293.4 L85.2,293.4 L85.2,291.8 L83.3,291.8 L83.3,290.1 L81.4,290.1 L81.4,288.5 L79.5,288.5 L79.5,286.8 L77.6,286.8 L77.6,285.2 L76.7,285.2 L75.9,285.2 L75.9,284.4 L74.4,284.4 L74.4,283.5 L73.6,283.5 L72.6,283.5 L72.6,283.1 L70.8,283.1 L70.8,282.7 L68.8,282.7 L68.8,282.3 L66.9,282.3 L66.9,281.9 L65,281.9 L65,281.5 L64.1,281.5 L63,281.5 L63,280.2 L60.8,280.2 L60.8,278.8 L58.5,278.8 L58.5,277.5 L57.4,277.5 L56,277.5 L56,275 L54.5,275 L53,275 L53,269 L51.6,269 L50.4,269 L50.4,265.5 L48.1,265.5 L48.1,262 L46.9,262 L45.7,262 L45.7,258 L43.4,258 L43.4,254 L42.2,254 L40.8,254 L40.8,246 L39.3,246 L38.3,246 L38.3,245.8 L36.2,245.8 L36.2,245.5 L34.2,245.5 L34.2,245.3 L32.1,245.3 L32.1,245.1 L31.1,245.1Z" fill="#00BFC4" fill-opacity="0.3"/>
<path d="M31.1,244.7 L34,244.9 L35.2,244.9 L35.2,245.7 L37.5,245.7 L37.5,246.4 L38.7,246.4 L39.6,246.4 L39.6,250.8 L41.3,250.8 L41.3,255.2 L42.2,255.2 L43.1,255.2 L43.1,257.5 L44.8,257.5 L44.8,259.9 L45.7,259.9 L46.6,259.9 L46.6,262.8 L48.3,262.8 L48.3,265.7 L49.2,265.7 L50.1,265.7 L50.1,269.2 L51.8,269.2 L51.8,272.7 L52.7,272.7 L53.6,272.7 L53.6,275.5 L54.5,275.5 L56,275.5 L56,277.4 L57.4,277.4 L58.8,277.4 L58.8,280.8 L60.3,280.8 L61.5,280.8 L61.5,282.4 L63.8,282.4 L63.8,284 L65,284 L66,284 L66,285.5 L67,285.5 L68.3,285.5 L68.3,292.2 L69.7,292.2 L70.9,292.2 L70.9,293.4 L73.2,293.4 L73.2,294.6 L74.4,294.6 L75.6,294.6 L75.6,296.4 L77.8,296.4 L77.8,298.1 L79,298.1 L80.2,298.1 L80.2,299.6 L82.5,299.6 L82.5,301 L83.7,301 L84.8,301 L84.8,301.1 L86.9,301.1 L86.9,301.2 L89.1,301.2 L89.1,301.3 L91.2,301.3 L91.2,301.4 L93.4,301.4 L93.4,301.5 L95.5,301.5 L95.5,301.6 L96.6,301.6 L97.8,301.6 L97.8,304.5 L98.9,304.5 L99.9,304.5 L99.9,307.4 L101.8,307.4 L101.8,310.4 L103.8,310.4 L103.8,313.3 L104.8,313.3 L105.8,313.3 L105.8,316.5 L107.7,316.5 L107.7,319.6 L108.7,319.6 L122.7,319.6 L123.3,319.6 L123.3,323.3 L123.9,323.3 L132.3,323.3 L132.6,323.3 L132.6,328.5 L132.9,328.5 L133.8,328.5 L133.8,334.4 L134.6,334.4 L135.2,334.4 L135.2,340.2 L135.8,340.2 L136.7,340.2 L136.7,346.1 L137.5,346.1 L143.4,346.1 L143.7,346.1 L143.7,354.2 L144,354.2 L163,354.2" fill="none" stroke="#F8766D" stroke-width="1.2" stroke-linejoin="miter"/>
<path d="M44.70,256.86v3.4M43.50,258.56h2.4M50.04,265.67v3.4M48.84,267.37h2.4M52.83,271.21v3.4M51.63,272.91h2.4M59.79,278.50v3.4M58.59,280.20h2.4M63.85,281.52v3.4M62.65,283.22h2.4M68.09,286.50v3.4M66.89,288.20h2.4M75.99,294.11v3.4M74.79,295.81h2.4M80.04,297.04v3.4M78.84,298.74h2.4M87.35,299.47v3.4M86.15,301.17h2.4M94.54,299.80v3.4M93.34,301.50h2.4M98.29,302.04v3.4M97.09,303.74h2.4M102.94,308.82v3.4M101.74,310.52h2.4M107.70,316.29v3.4M106.50,317.99h2.4M115.18,317.90v3.4M113.98,319.60h2.4M121.58,317.90v3.4M120.38,319.60h2.4M128.55,321.60v3.4M127.35,323.30h2.4M133.70,329.59v3.4M132.50,331.29h2.4M140.43,344.40v3.4M139.23,346.10h2.4M144.66,352.50v3.4M143.46,354.20h2.4M150.80,352.50v3.4M149.60,354.20h2.4M153.37,352.50v3.4M152.17,354.20h2.4M157.45,352.50v3.4M156.25,354.20h2.4M161.20,352.50v3.4M160.00,354.20h2.4M163.00,352.50v3.4M161.80,354.20h2.4" fill="none" stroke="#F8766D" stroke-width="0.75"/>
<path d="M31.1,244.7 L32.1,244.7 L32.1,244.8 L34.2,244.8 L34.2,245 L36.2,245 L36.2,245.2 L38.3,245.2 L38.3,245.3 L39.3,245.3 L40.1,245.3 L40.1,247.6 L41,247.6 L41.9,247.6 L41.9,249.1 L43.6,249.1 L43.6,250.5 L44.5,250.5 L46,250.5 L46,255 L47.4,255 L48.2,255 L48.2,257.9 L49.9,257.9 L49.9,260.7 L50.7,260.7 L51.7,260.7 L51.7,263.1 L53.5,263.1 L53.5,265.5 L54.5,265.5 L55.5,265.5 L55.5,267.9 L57.4,267.9 L57.4,270.3 L58.4,270.3 L59.6,270.3 L59.6,271.5 L61.9,271.5 L61.9,272.7 L63.1,272.7 L64.3,272.7 L64.3,273.9 L66.7,273.9 L66.7,275 L67.9,275 L69.1,275 L69.1,276.4 L71.5,276.4 L71.5,277.9 L72.7,277.9 L73.7,277.9 L73.7,279.5 L75.6,279.5 L75.6,281.1 L77.5,281.1 L77.5,282.7 L78.4,282.7 L79.6,282.7 L79.6,283.6 L82,283.6 L82,284.6 L83.2,284.6 L84.4,284.6 L84.4,286.1 L86.8,286.1 L86.8,287.5 L88,287.5 L88.9,287.5 L88.9,288.4 L90.8,288.4 L90.8,289.3 L92.6,289.3 L92.6,290.2 L94.5,290.2 L94.5,291.1 L95.4,291.1 L96.3,291.1 L96.3,291.9 L98.1,291.9 L98.1,292.6 L99.8,292.6 L99.8,293.4 L100.7,293.4 L101.9,293.4 L101.9,294.6 L104.3,294.6 L104.3,295.8 L105.5,295.8 L106.6,295.8 L106.6,296.1 L108.7,296.1 L108.7,296.5 L110.9,296.5 L110.9,296.9 L113,296.9 L113,297.2 L114.1,297.2 L122.7,297.2 L123.7,297.2 L123.7,298.1 L125.5,298.1 L125.5,299.1 L126.5,299.1 L127.5,299.1 L127.5,300.1 L129.4,300.1 L129.4,301 L130.3,301 L131.1,301 L131.1,303.4 L132.6,303.4 L132.6,305.8 L133.3,305.8 L155.2,306.1 L155.5,312.5 L192.4,312.5" fill="none" stroke="#00BFC4" stroke-width="1.2" stroke-linejoin="miter"/>
<path d="M44.70,249.11v3.4M43.50,250.81h2.4M51.25,259.70v3.4M50.05,261.40h2.4M53.77,262.88v3.4M52.57,264.58h2.4M59.05,268.93v3.4M57.85,270.63h2.4M66.88,272.81v3.4M65.68,274.51h2.4M73.75,277.08v3.4M72.55,278.78h2.4M76.90,279.74v3.4M75.70,281.44h2.4M79.65,281.50v3.4M78.45,283.20h2.4M82.83,282.75v3.4M81.63,284.45h2.4M90.48,287.01v3.4M89.28,288.71h2.4M94.02,288.73v3.4M92.82,290.43h2.4M96.99,290.09v3.4M95.79,291.79h2.4M99.70,291.26v3.4M98.50,292.96h2.4M103.01,292.86v3.4M101.81,294.56h2.4M108.20,294.54v3.4M107.00,296.24h2.4M113.90,295.47v3.4M112.70,297.17h2.4M116.56,295.50v3.4M115.36,297.20h2.4M123.37,295.83v3.4M122.17,297.53h2.4M131.01,300.44v3.4M129.81,302.14h2.4M137.43,304.16v3.4M136.23,305.86h2.4M143.35,304.24v3.4M142.15,305.94h2.4M147.44,304.29v3.4M146.24,305.99h2.4M152.49,304.36v3.4M151.29,306.06h2.4M156.77,310.80v3.4M155.57,312.50h2.4M164.56,310.80v3.4M163.36,312.50h2.4M168.81,310.80v3.4M167.61,312.50h2.4M171.64,310.80v3.4M170.44,312.50h2.4M179.39,310.80v3.4M178.19,312.50h2.4M182.96,310.80v3.4M181.76,312.50h2.4M189.58,310.80v3.4M188.38,312.50h2.4M192.40,310.80v3.4M191.20,312.50h2.4" fill="none" stroke="#00BFC4" stroke-width="0.75"/>
<line x1="22.60" y1="238.0" x2="22.60" y2="388.80" stroke="#4a4a4a" stroke-width="1.2"/>
<line x1="22.00" y1="388.2" x2="212.6" y2="388.2" stroke="#2a2a2a" stroke-width="1.2"/>
<line x1="20.70" y1="244.60" x2="22.6" y2="244.60" stroke="#262626" stroke-width="0.9"/>
<text x="19.70" y="246.70" font-size="6.3" fill="#3d3d3d" stroke="#3d3d3d" stroke-width="0.12" text-anchor="end" textLength="11" lengthAdjust="spacingAndGlyphs">1.00</text>
<line x1="20.70" y1="286.33" x2="22.6" y2="286.33" stroke="#262626" stroke-width="0.9"/>
<text x="19.70" y="288.43" font-size="6.3" fill="#3d3d3d" stroke="#3d3d3d" stroke-width="0.12" text-anchor="end" textLength="11" lengthAdjust="spacingAndGlyphs">0.75</text>
<line x1="20.70" y1="328.07" x2="22.6" y2="328.07" stroke="#262626" stroke-width="0.9"/>
<text x="19.70" y="330.17" font-size="6.3" fill="#3d3d3d" stroke="#3d3d3d" stroke-width="0.12" text-anchor="end" textLength="11" lengthAdjust="spacingAndGlyphs">0.50</text>
<line x1="20.70" y1="369.80" x2="22.6" y2="369.80" stroke="#262626" stroke-width="0.9"/>
<text x="19.70" y="371.90" font-size="6.3" fill="#3d3d3d" stroke="#3d3d3d" stroke-width="0.12" text-anchor="end" textLength="11" lengthAdjust="spacingAndGlyphs">0.25</text>
<line x1="30.70" y1="388.2" x2="30.70" y2="390.10" stroke="#262626" stroke-width="0.9"/>
<text x="30.70" y="394.80" font-size="5.9" fill="#3d3d3d" stroke="#3d3d3d" stroke-width="0.12" text-anchor="middle" textLength="3.0" lengthAdjust="spacingAndGlyphs">0</text>
<line x1="45.11" y1="388.2" x2="45.11" y2="390.10" stroke="#262626" stroke-width="0.9"/>
<text x="45.11" y="394.80" font-size="5.9" fill="#3d3d3d" stroke="#3d3d3d" stroke-width="0.12" text-anchor="middle" textLength="3.0" lengthAdjust="spacingAndGlyphs">6</text>
<line x1="59.52" y1="388.2" x2="59.52" y2="390.10" stroke="#262626" stroke-width="0.9"/>
<text x="59.52" y="394.80" font-size="5.9" fill="#3d3d3d" stroke="#3d3d3d" stroke-width="0.12" text-anchor="middle" textLength="6.0" lengthAdjust="spacingAndGlyphs">12</text>
<line x1="73.92" y1="388.2" x2="73.92" y2="390.10" stroke="#262626" stroke-width="0.9"/>
<text x="73.92" y="394.80" font-size="5.9" fill="#3d3d3d" stroke="#3d3d3d" stroke-width="0.12" text-anchor="middle" textLength="6.0" lengthAdjust="spacingAndGlyphs">18</text>
<line x1="88.33" y1="388.2" x2="88.33" y2="390.10" stroke="#262626" stroke-width="0.9"/>
<text x="88.33" y="394.80" font-size="5.9" fill="#3d3d3d" stroke="#3d3d3d" stroke-width="0.12" text-anchor="middle" textLength="6.0" lengthAdjust="spacingAndGlyphs">24</text>
<line x1="102.74" y1="388.2" x2="102.74" y2="390.10" stroke="#262626" stroke-width="0.9"/>
<text x="102.74" y="394.80" font-size="5.9" fill="#3d3d3d" stroke="#3d3d3d" stroke-width="0.12" text-anchor="middle" textLength="6.0" lengthAdjust="spacingAndGlyphs">30</text>
<line x1="117.15" y1="388.2" x2="117.15" y2="390.10" stroke="#262626" stroke-width="0.9"/>
<text x="117.15" y="394.80" font-size="5.9" fill="#3d3d3d" stroke="#3d3d3d" stroke-width="0.12" text-anchor="middle" textLength="6.0" lengthAdjust="spacingAndGlyphs">36</text>
<line x1="131.56" y1="388.2" x2="131.56" y2="390.10" stroke="#262626" stroke-width="0.9"/>
<text x="131.56" y="394.80" font-size="5.9" fill="#3d3d3d" stroke="#3d3d3d" stroke-width="0.12" text-anchor="middle" textLength="6.0" lengthAdjust="spacingAndGlyphs">42</text>
<line x1="145.97" y1="388.2" x2="145.97" y2="390.10" stroke="#262626" stroke-width="0.9"/>
<text x="145.97" y="394.80" font-size="5.9" fill="#3d3d3d" stroke="#3d3d3d" stroke-width="0.12" text-anchor="middle" textLength="6.0" lengthAdjust="spacingAndGlyphs">48</text>
<line x1="160.38" y1="388.2" x2="160.38" y2="390.10" stroke="#262626" stroke-width="0.9"/>
<text x="160.38" y="394.80" font-size="5.9" fill="#3d3d3d" stroke="#3d3d3d" stroke-width="0.12" text-anchor="middle" textLength="6.0" lengthAdjust="spacingAndGlyphs">54</text>
<line x1="174.78" y1="388.2" x2="174.78" y2="390.10" stroke="#262626" stroke-width="0.9"/>
<text x="174.78" y="394.80" font-size="5.9" fill="#3d3d3d" stroke="#3d3d3d" stroke-width="0.12" text-anchor="middle" textLength="6.0" lengthAdjust="spacingAndGlyphs">60</text>
<line x1="189.19" y1="388.2" x2="189.19" y2="390.10" stroke="#262626" stroke-width="0.9"/>
<text x="189.19" y="394.80" font-size="5.9" fill="#3d3d3d" stroke="#3d3d3d" stroke-width="0.12" text-anchor="middle" textLength="6.0" lengthAdjust="spacingAndGlyphs">66</text>
<line x1="203.60" y1="388.2" x2="203.60" y2="390.10" stroke="#262626" stroke-width="0.9"/>
<text x="203.60" y="394.80" font-size="5.9" fill="#3d3d3d" stroke="#3d3d3d" stroke-width="0.12" text-anchor="middle" textLength="6.0" lengthAdjust="spacingAndGlyphs">72</text>
<text x="117.60" y="402.70" font-size="7.3" fill="#1a1a1a" stroke="#1a1a1a" stroke-width="0.15" paint-order="stroke" text-anchor="middle" textLength="47" lengthAdjust="spacingAndGlyphs">Time (Months)</text>
<text transform="translate(7.20,313.10) rotate(-90)" font-size="7.6" fill="#1a1a1a" text-anchor="middle" textLength="80.8" lengthAdjust="spacingAndGlyphs">Recurrence-free survival</text>
<text x="34.20" y="372.10" font-size="6.7" fill="#1a1a1a" stroke="#1a1a1a" stroke-width="0.2" textLength="52.9" lengthAdjust="spacingAndGlyphs">Log rank P = 0.003</text>
<text x="34.20" y="379.70" font-size="6.7" fill="#1a1a1a" stroke="#1a1a1a" stroke-width="0.2" textLength="94.2" lengthAdjust="spacingAndGlyphs">HR (95%CI): 0.619 (0.451 - 0.849)</text>
<text x="114.50" y="419.10" font-family="Liberation Sans, sans-serif" font-size="9.6" fill="#111" stroke="#111" stroke-width="0.35" text-anchor="middle">D</text>
<text x="73.30" y="228.05" font-size="7.4" fill="#1a1a1a" stroke="#1a1a1a" stroke-width="0.15" paint-order="stroke" textLength="41.2" lengthAdjust="spacingAndGlyphs">Total protein</text>
<rect x="118.25" y="222.95" width="4.8" height="4.6" fill="#F8766D" fill-opacity="0.3" stroke="#F8766D" stroke-opacity="0.35" stroke-width="0.5"/>
<line x1="118.00" y1="225.30" x2="123.30" y2="225.30" stroke="#F8766D" stroke-width="0.9"/>
<line x1="120.65" y1="223.80" x2="120.65" y2="226.80" stroke="#F8766D" stroke-width="0.75"/>
<text x="126.80" y="226.95" font-size="5.8" fill="#1a1a1a" stroke="#1a1a1a" stroke-width="0.15" paint-order="stroke" textLength="10.5" lengthAdjust="spacingAndGlyphs">Low</text>
<rect x="140.75" y="222.95" width="4.8" height="4.6" fill="#00BFC4" fill-opacity="0.3" stroke="#00BFC4" stroke-opacity="0.35" stroke-width="0.5"/>
<line x1="140.50" y1="225.30" x2="145.80" y2="225.30" stroke="#00BFC4" stroke-width="0.9"/>
<line x1="143.15" y1="223.80" x2="143.15" y2="226.80" stroke="#00BFC4" stroke-width="0.75"/>
<text x="149.30" y="226.95" font-size="5.8" fill="#1a1a1a" stroke="#1a1a1a" stroke-width="0.15" paint-order="stroke" textLength="12.6" lengthAdjust="spacingAndGlyphs">High</text>
<path d="M270.7,244.1 L277.7,244.3 L278.7,244.3 L278.7,244.9 L280.6,244.9 L280.6,245.6 L282.5,245.6 L282.5,246.2 L283.5,246.2 L284.3,246.2 L284.3,249.6 L285.8,249.6 L285.8,253 L286.6,253 L287.7,253 L287.7,256.2 L289.8,256.2 L289.8,259.5 L290.9,259.5 L292,259.5 L292,262.5 L294.1,262.5 L294.1,265.5 L295.2,265.5 L296.3,265.5 L296.3,267.8 L298.4,267.8 L298.4,270 L299.5,270 L300.6,270 L300.6,272.2 L302.7,272.2 L302.7,274.5 L303.8,274.5 L304.8,274.5 L304.8,276.3 L306.9,276.3 L306.9,278.2 L309,278.2 L309,280 L310,280 L310.9,280 L310.9,282.1 L312.8,282.1 L312.8,284.1 L314.6,284.1 L314.6,286.2 L316.5,286.2 L316.5,288.2 L317.4,288.2 L318.6,288.2 L318.6,293.4 L319.8,293.4 L320.8,293.4 L320.8,294.2 L322.7,294.2 L322.7,295 L324.7,295 L324.7,295.8 L326.6,295.8 L326.6,296.5 L328.6,296.5 L328.6,297.3 L330.5,297.3 L330.5,298.1 L331.5,298.1 L332.4,298.1 L332.4,299.2 L334.3,299.2 L334.3,300.3 L336.1,300.3 L336.1,301.4 L338,301.4 L338,302.5 L339.9,302.5 L339.9,303.6 L340.8,303.6 L341.8,303.6 L341.8,304.5 L343.8,304.5 L343.8,305.3 L345.8,305.3 L345.8,306.2 L347.8,306.2 L347.8,307 L348.8,307 L349.8,307 L349.8,307.4 L351.9,307.4 L351.9,307.7 L354,307.7 L354,308.1 L356.1,308.1 L356.1,308.4 L358.2,308.4 L358.2,308.8 L360.3,308.8 L360.3,309.1 L362.4,309.1 L362.4,309.5 L363.4,309.5 L364.5,309.5 L364.5,310.7 L366.7,310.7 L366.7,311.9 L368.8,311.9 L368.8,313.1 L371,313.1 L371,314.3 L372.1,314.3 L431.2,314.3 L431.8,357.2 L364.4,357.2 L363.4,357.2 L363.4,356.6 L361.5,356.6 L361.5,355.9 L359.6,355.9 L359.6,355.3 L357.7,355.3 L357.7,354.6 L355.7,354.6 L355.7,354 L353.8,354 L353.8,353.4 L351.9,353.4 L351.9,352.7 L350,352.7 L350,352.1 L349,352.1 L348,352.1 L348,350.8 L346,350.8 L346,349.5 L343.9,349.5 L343.9,348.3 L341.9,348.3 L341.9,347 L340.9,347 L339.9,347 L339.9,345.6 L337.8,345.6 L337.8,344.3 L335.7,344.3 L335.7,342.9 L334.7,342.9 L333.7,342.9 L333.7,341.4 L331.7,341.4 L331.7,339.8 L329.6,339.8 L329.6,338.3 L327.6,338.3 L327.6,336.8 L326.6,336.8 L325.6,336.8 L325.6,334.3 L323.5,334.3 L323.5,331.7 L321.5,331.7 L321.5,329.2 L319.4,329.2 L319.4,326.6 L318.4,326.6 L317.5,326.6 L317.5,324.7 L315.6,324.7 L315.6,322.8 L313.8,322.8 L313.8,320.8 L312,320.8 L312,318.9 L310.1,318.9 L310.1,317 L309.2,317 L308.3,317 L308.3,313.9 L306.6,313.9 L306.6,310.9 L305.7,310.9 L304.7,310.9 L304.7,308.6 L302.8,308.6 L302.8,306.2 L300.9,306.2 L300.9,303.9 L299.9,303.9 L298.9,303.9 L298.9,300.4 L296.9,300.4 L296.9,296.9 L295,296.9 L295,293.4 L294,293.4 L293.1,293.4 L293.1,291.3 L291.2,291.3 L291.2,289.1 L289.4,289.1 L289.4,287 L288.5,287 L288,287 L288,282 L287.5,282 L286.6,282 L286.6,274.4 L285.7,274.4 L284.4,274.4 L284.4,264.9 L283.2,264.9 L281.9,264.9 L281.9,256.3 L280.6,256.3 L279.1,256.3 L279.1,250.5 L277.7,250.5 L276.8,250.5 L276.8,250.2 L275.1,250.2 L275.1,250 L274.2,250 L274.2,245.3 L273.3,245.3 L273.3,245 L271.6,245 L271.6,244.7 L270.7,244.7Z" fill="#F8766D" fill-opacity="0.3"/>
<path d="M270.7,244.1 L271.6,244.1 L271.6,244.2 L273.3,244.2 L273.3,244.3 L275.1,244.3 L275.1,244.4 L276.8,244.4 L276.8,244.5 L277.7,244.5 L278.9,244.5 L278.9,245.8 L281.2,245.8 L281.2,247 L282.4,247 L283.6,247 L283.6,249.3 L285.9,249.3 L285.9,251.7 L287.1,251.7 L288.1,251.7 L288.1,254 L290,254 L290,256.4 L291.9,256.4 L291.9,258.7 L292.9,258.7 L294.1,258.7 L294.1,261.6 L296.4,261.6 L296.4,264.6 L297.6,264.6 L298.6,264.6 L298.6,265.5 L300.7,265.5 L300.7,266.4 L302.7,266.4 L302.7,267.2 L304.8,267.2 L304.8,268.1 L305.8,268.1 L306.9,268.1 L306.9,269.9 L309.2,269.9 L309.2,271.6 L310.4,271.6 L311.3,271.6 L311.3,272.3 L313.2,272.3 L313.2,273 L315.1,273 L315.1,273.7 L317,273.7 L317,274.4 L318.9,274.4 L318.9,275.1 L319.8,275.1 L320.7,275.1 L320.7,275.8 L322.6,275.8 L322.6,276.5 L324.5,276.5 L324.5,277.2 L326.4,277.2 L326.4,277.9 L328.3,277.9 L328.3,278.6 L329.2,278.6 L330.1,278.6 L330.1,279.2 L332,279.2 L332,279.8 L333.9,279.8 L333.9,280.4 L335.7,280.4 L335.7,281 L337.6,281 L337.6,281.6 L338.5,281.6 L339.2,281.6 L339.2,282.9 L340,282.9 L340.9,282.9 L340.9,284.4 L342.7,284.4 L342.7,285.9 L344.6,285.9 L344.6,287.3 L346.4,287.3 L346.4,288.8 L347.3,288.8 L348.3,288.8 L348.3,289 L350.4,289 L350.4,289.2 L352.4,289.2 L352.4,289.5 L354.4,289.5 L354.4,289.7 L356.5,289.7 L356.5,289.9 L358.5,289.9 L358.5,290.1 L360.6,290.1 L360.6,290.3 L362.6,290.3 L362.6,290.6 L364.6,290.6 L364.6,290.8 L366.7,290.8 L366.7,291 L367.7,291 L368.6,291 L368.6,293.4 L370.4,293.4 L370.4,295.7 L372.3,295.7 L372.3,298.1 L374.1,298.1 L374.1,300.4 L375,300.4 L376.1,300.4 L376.1,300.9 L378.3,300.9 L378.3,301.5 L380.5,301.5 L380.5,302.1 L382.7,302.1 L382.7,302.6 L383.8,302.6 L384.8,302.6 L384.8,303 L386.7,303 L386.7,303.3 L388.7,303.3 L388.7,303.7 L390.6,303.7 L390.6,304.1 L392.6,304.1 L392.6,304.4 L394.5,304.4 L394.5,304.8 L395.5,304.8 L431.2,304.8 L431.2,335.5 L395.5,335.5 L394.5,335.5 L394.5,334.3 L392.6,334.3 L392.6,333.1 L390.6,333.1 L390.6,331.9 L388.7,331.9 L388.7,330.6 L386.7,330.6 L386.7,329.4 L384.8,329.4 L384.8,328.2 L383.8,328.2 L382.7,328.2 L382.7,326.4 L380.5,326.4 L380.5,324.5 L378.3,324.5 L378.3,322.7 L376.1,322.7 L376.1,320.9 L375,320.9 L374,320.9 L374,318.5 L372.1,318.5 L372.1,316 L370.2,316 L370.2,313.6 L369.2,313.6 L368.2,313.6 L368.2,312.1 L366.3,312.1 L366.3,310.7 L364.4,310.7 L364.4,309.2 L363.4,309.2 L362.4,309.2 L362.4,309 L360.3,309 L360.3,308.8 L358.2,308.8 L358.2,308.6 L356.1,308.6 L356.1,308.3 L354,308.3 L354,308.1 L351.9,308.1 L351.9,307.9 L349.8,307.9 L349.8,307.7 L348.8,307.7 L348,307.7 L348,306.4 L346.3,306.4 L346.3,305.1 L345.5,305.1 L344.6,305.1 L344.6,303.4 L342.9,303.4 L342.9,301.6 L341.1,301.6 L341.1,299.9 L339.4,299.9 L339.4,298.1 L338.5,298.1 L337.5,298.1 L337.5,297.3 L335.6,297.3 L335.6,296.5 L333.6,296.5 L333.6,295.8 L331.7,295.8 L331.7,295 L329.7,295 L329.7,294.2 L327.8,294.2 L327.8,293.4 L326.8,293.4 L325.8,293.4 L325.8,292.4 L323.9,292.4 L323.9,291.4 L321.9,291.4 L321.9,290.5 L320,290.5 L320,289.5 L318,289.5 L318,288.5 L316.1,288.5 L316.1,287.5 L315.1,287.5 L314.1,287.5 L314.1,285.7 L312,285.7 L312,283.8 L309.9,283.8 L309.9,282 L308.9,282 L308,282 L308,280.8 L306.4,280.8 L306.4,279.5 L305.5,279.5 L304.6,279.5 L304.6,278.4 L302.9,278.4 L302.9,277.2 L301.2,277.2 L301.2,276.1 L300.3,276.1 L299.4,276.1 L299.4,274.9 L297.8,274.9 L297.8,273.8 L296.1,273.8 L296.1,272.6 L295.2,272.6 L294.1,272.6 L294.1,270.5 L292,270.5 L292,268.3 L290.9,268.3 L289.8,268.3 L289.8,265.3 L287.7,265.3 L287.7,262.3 L286.6,262.3 L285.5,262.3 L285.5,259.8 L283.4,259.8 L283.4,257.2 L282.3,257.2 L281.1,257.2 L281.1,251.5 L278.9,251.5 L278.9,245.8 L277.7,245.8 L276.8,245.8 L276.8,245.5 L275.1,245.5 L275.1,245.2 L273.3,245.2 L273.3,245 L271.6,245 L271.6,244.7 L270.7,244.7Z" fill="#00BFC4" fill-opacity="0.3"/>
<path d="M270.7,244.4 L271.6,244.4 L271.6,245.1 L273.3,245.1 L273.3,245.8 L274.2,245.8 L275.1,245.8 L275.1,246.1 L276.8,246.1 L276.8,246.4 L277.7,246.4 L279.1,246.4 L279.1,252 L280.6,252 L281.9,252 L281.9,254.6 L283.2,254.6 L284.4,254.6 L284.4,261.5 L285.7,261.5 L287,261.5 L287,269.2 L288.3,269.2 L289.1,269.2 L289.1,273.5 L290,273.5 L291.3,273.5 L291.3,275.2 L292.6,275.2 L293.9,275.2 L293.9,278.6 L295.2,278.6 L296.4,278.6 L296.4,283.1 L298.7,283.1 L298.7,287.5 L299.9,287.5 L301.1,287.5 L301.1,290.4 L303.4,290.4 L303.4,293.4 L304.6,293.4 L305.6,293.4 L305.6,296.1 L307.5,296.1 L307.5,298.9 L309.4,298.9 L309.4,301.6 L310.4,301.6 L311.4,301.6 L311.4,303.1 L313.4,303.1 L313.4,304.6 L315.3,304.6 L315.3,306.1 L316.3,306.1 L317.3,306.1 L317.3,310.2 L319.4,310.2 L319.4,314.3 L320.4,314.3 L321.2,314.3 L321.2,316 L322.9,316 L322.9,317.7 L324.6,317.7 L324.6,319.4 L325.5,319.4 L326.5,319.4 L326.5,320.2 L328.6,320.2 L328.6,320.9 L330.6,320.9 L330.6,321.7 L332.7,321.7 L332.7,322.5 L333.7,322.5 L334.6,322.5 L334.6,324 L336.4,324 L336.4,325.5 L338.2,325.5 L338.2,327.1 L340,327.1 L340,328.6 L340.9,328.6 L341.2,328.6 L341.2,329.6 L341.5,329.6 L348.8,329.6 L348.8,333.5 L363.4,333.5 L363.8,333.5 L363.8,338.4 L364.1,338.4 L432.7,338.4" fill="none" stroke="#F8766D" stroke-width="1.2" stroke-linejoin="miter"/>
<path d="M284.60,256.76v3.4M283.40,258.46h2.4M290.96,272.43v3.4M289.76,274.13h2.4M294.14,275.51v3.4M292.94,277.21h2.4M298.96,284.02v3.4M297.76,285.72h2.4M301.73,288.10v3.4M300.53,289.80h2.4M309.33,298.39v3.4M308.13,300.09h2.4M317.09,305.97v3.4M315.89,307.67h2.4M324.82,317.02v3.4M323.62,318.72h2.4M330.29,319.51v3.4M329.09,321.21h2.4M336.73,323.37v3.4M335.53,325.07h2.4M339.85,326.01v3.4M338.65,327.71h2.4M343.41,327.90v3.4M342.21,329.60h2.4M349.85,331.80v3.4M348.65,333.50h2.4M355.83,331.80v3.4M354.63,333.50h2.4M363.17,331.80v3.4M361.97,333.50h2.4M368.88,336.70v3.4M367.68,338.40h2.4M371.86,336.70v3.4M370.66,338.40h2.4M377.71,336.70v3.4M376.51,338.40h2.4M380.53,336.70v3.4M379.33,338.40h2.4M383.82,336.70v3.4M382.62,338.40h2.4M388.83,336.70v3.4M387.63,338.40h2.4M391.67,336.70v3.4M390.47,338.40h2.4M396.09,336.70v3.4M394.89,338.40h2.4M400.92,336.70v3.4M399.72,338.40h2.4M405.36,336.70v3.4M404.16,338.40h2.4M409.71,336.70v3.4M408.51,338.40h2.4M416.33,336.70v3.4M415.13,338.40h2.4M419.67,336.70v3.4M418.47,338.40h2.4M426.51,336.70v3.4M425.31,338.40h2.4M432.70,336.70v3.4M431.50,338.40h2.4" fill="none" stroke="#F8766D" stroke-width="0.75"/>
<path d="M270.7,244.4 L271.6,244.4 L271.6,244.6 L273.3,244.6 L273.3,244.8 L275.1,244.8 L275.1,245.1 L276.8,245.1 L276.8,245.3 L277.7,245.3 L278.9,245.3 L278.9,249.1 L281.1,249.1 L281.1,252.9 L282.3,252.9 L283.4,252.9 L283.4,255.4 L285.5,255.4 L285.5,258 L286.6,258 L287.7,258 L287.7,260.6 L289.8,260.6 L289.8,263.2 L290.9,263.2 L292,263.2 L292,265.8 L294.1,265.8 L294.1,268.3 L295.2,268.3 L296.3,268.3 L296.3,270.1 L298.4,270.1 L298.4,271.8 L299.5,271.8 L300.6,271.8 L300.6,272.6 L302.7,272.6 L302.7,273.5 L303.8,273.5 L306.4,273.8 L307.2,273.8 L307.2,275.4 L308.9,275.4 L308.9,276.9 L309.8,276.9 L310.9,276.9 L310.9,278.2 L312.9,278.2 L312.9,279.5 L314,279.5 L315.1,279.5 L315.1,280.6 L317.4,280.6 L317.4,281.8 L319.8,281.8 L319.8,282.9 L320.9,282.9 L321.9,282.9 L321.9,283.8 L324,283.8 L324,284.6 L326,284.6 L326,285.5 L328.1,285.5 L328.1,286.4 L329.1,286.4 L330,286.4 L330,287 L331.9,287 L331.9,287.6 L333.8,287.6 L333.8,288.1 L335.7,288.1 L335.7,288.7 L337.6,288.7 L337.6,289.3 L338.5,289.3 L339.2,289.3 L339.2,290.2 L340,290.2 L340.9,290.2 L340.9,292 L342.7,292 L342.7,293.8 L344.6,293.8 L344.6,295.7 L346.4,295.7 L346.4,297.5 L347.3,297.5 L348.3,297.5 L348.3,297.7 L350.4,297.7 L350.4,297.9 L352.5,297.9 L352.5,298.1 L354.6,298.1 L354.6,298.4 L356.7,298.4 L356.7,298.6 L358.8,298.6 L358.8,298.8 L360.9,298.8 L360.9,299 L361.9,299 L362.8,299 L362.8,299.7 L364.6,299.7 L364.6,300.5 L366.5,300.5 L366.5,301.2 L368.3,301.2 L368.3,301.9 L369.2,301.9 L370.2,301.9 L370.2,304.8 L372.1,304.8 L372.1,307.8 L374,307.8 L374,310.7 L375,310.7 L375.9,310.7 L375.9,311.8 L377.7,311.8 L377.7,312.8 L379.6,312.8 L379.6,313.9 L381.4,313.9 L381.4,315 L382.3,315 L383.1,315 L383.1,317.2 L383.8,317.2 L394.7,317.2 L395.1,317.2 L395.1,322.3 L395.5,322.3 L431.2,322.3" fill="none" stroke="#00BFC4" stroke-width="1.2" stroke-linejoin="miter"/>
<path d="M284.60,253.93v3.4M283.40,255.63h2.4M290.69,261.25v3.4M289.49,262.95h2.4M298.39,269.20v3.4M297.19,270.90h2.4M302.78,271.40v3.4M301.58,273.10h2.4M309.33,274.78v3.4M308.13,276.48h2.4M313.05,277.21v3.4M311.85,278.91h2.4M320.40,280.95v3.4M319.20,282.65h2.4M327.79,284.14v3.4M326.59,285.84h2.4M330.85,285.24v3.4M329.65,286.94h2.4M334.27,286.29v3.4M333.07,287.99h2.4M340.86,289.36v3.4M339.66,291.06h2.4M347.32,295.80v3.4M346.12,297.50h2.4M353.68,296.46v3.4M352.48,298.16h2.4M358.68,296.97v3.4M357.48,298.67h2.4M363.26,297.84v3.4M362.06,299.54h2.4M366.94,299.30v3.4M365.74,301.00h2.4M374.80,308.70v3.4M373.60,310.40h2.4M377.58,310.52v3.4M376.38,312.22h2.4M380.23,312.08v3.4M379.03,313.78h2.4M382.76,313.98v3.4M381.56,315.68h2.4M385.87,315.50v3.4M384.67,317.20h2.4M390.41,315.50v3.4M389.21,317.20h2.4M393.42,315.50v3.4M392.22,317.20h2.4M396.37,320.60v3.4M395.17,322.30h2.4M401.25,320.60v3.4M400.05,322.30h2.4M407.63,320.60v3.4M406.43,322.30h2.4M410.20,320.60v3.4M409.00,322.30h2.4M415.83,320.60v3.4M414.63,322.30h2.4M421.95,320.60v3.4M420.75,322.30h2.4M424.53,320.60v3.4M423.33,322.30h2.4M431.20,320.60v3.4M430.00,322.30h2.4" fill="none" stroke="#00BFC4" stroke-width="0.75"/>
<line x1="262.10" y1="238.1" x2="262.10" y2="388.90" stroke="#bdbdbd" stroke-width="2.2"/>
<line x1="261.00" y1="388.3" x2="453.0" y2="388.3" stroke="#2a2a2a" stroke-width="1.2"/>
<line x1="260.20" y1="244.40" x2="262.1" y2="244.40" stroke="#262626" stroke-width="0.9"/>
<text x="259.20" y="246.50" font-size="6.3" fill="#3d3d3d" stroke="#3d3d3d" stroke-width="0.12" text-anchor="end" textLength="11" lengthAdjust="spacingAndGlyphs">1.00</text>
<line x1="260.20" y1="286.23" x2="262.1" y2="286.23" stroke="#262626" stroke-width="0.9"/>
<text x="259.20" y="288.33" font-size="6.3" fill="#3d3d3d" stroke="#3d3d3d" stroke-width="0.12" text-anchor="end" textLength="11" lengthAdjust="spacingAndGlyphs">0.75</text>
<line x1="260.20" y1="328.07" x2="262.1" y2="328.07" stroke="#262626" stroke-width="0.9"/>
<text x="259.20" y="330.17" font-size="6.3" fill="#3d3d3d" stroke="#3d3d3d" stroke-width="0.12" text-anchor="end" textLength="11" lengthAdjust="spacingAndGlyphs">0.50</text>
<line x1="260.20" y1="369.90" x2="262.1" y2="369.90" stroke="#262626" stroke-width="0.9"/>
<text x="259.20" y="372.00" font-size="6.3" fill="#3d3d3d" stroke="#3d3d3d" stroke-width="0.12" text-anchor="end" textLength="11" lengthAdjust="spacingAndGlyphs">0.25</text>
<line x1="270.60" y1="388.3" x2="270.60" y2="390.20" stroke="#262626" stroke-width="0.9"/>
<text x="270.60" y="394.90" font-size="5.9" fill="#3d3d3d" stroke="#3d3d3d" stroke-width="0.12" text-anchor="middle" textLength="3.0" lengthAdjust="spacingAndGlyphs">0</text>
<line x1="285.07" y1="388.3" x2="285.07" y2="390.20" stroke="#262626" stroke-width="0.9"/>
<text x="285.07" y="394.90" font-size="5.9" fill="#3d3d3d" stroke="#3d3d3d" stroke-width="0.12" text-anchor="middle" textLength="3.0" lengthAdjust="spacingAndGlyphs">6</text>
<line x1="299.53" y1="388.3" x2="299.53" y2="390.20" stroke="#262626" stroke-width="0.9"/>
<text x="299.53" y="394.90" font-size="5.9" fill="#3d3d3d" stroke="#3d3d3d" stroke-width="0.12" text-anchor="middle" textLength="6.0" lengthAdjust="spacingAndGlyphs">12</text>
<line x1="314.00" y1="388.3" x2="314.00" y2="390.20" stroke="#262626" stroke-width="0.9"/>
<text x="314.00" y="394.90" font-size="5.9" fill="#3d3d3d" stroke="#3d3d3d" stroke-width="0.12" text-anchor="middle" textLength="6.0" lengthAdjust="spacingAndGlyphs">18</text>
<line x1="328.47" y1="388.3" x2="328.47" y2="390.20" stroke="#262626" stroke-width="0.9"/>
<text x="328.47" y="394.90" font-size="5.9" fill="#3d3d3d" stroke="#3d3d3d" stroke-width="0.12" text-anchor="middle" textLength="6.0" lengthAdjust="spacingAndGlyphs">24</text>
<line x1="342.93" y1="388.3" x2="342.93" y2="390.20" stroke="#262626" stroke-width="0.9"/>
<text x="342.93" y="394.90" font-size="5.9" fill="#3d3d3d" stroke="#3d3d3d" stroke-width="0.12" text-anchor="middle" textLength="6.0" lengthAdjust="spacingAndGlyphs">30</text>
<line x1="357.40" y1="388.3" x2="357.40" y2="390.20" stroke="#262626" stroke-width="0.9"/>
<text x="357.40" y="394.90" font-size="5.9" fill="#3d3d3d" stroke="#3d3d3d" stroke-width="0.12" text-anchor="middle" textLength="6.0" lengthAdjust="spacingAndGlyphs">36</text>
<line x1="371.87" y1="388.3" x2="371.87" y2="390.20" stroke="#262626" stroke-width="0.9"/>
<text x="371.87" y="394.90" font-size="5.9" fill="#3d3d3d" stroke="#3d3d3d" stroke-width="0.12" text-anchor="middle" textLength="6.0" lengthAdjust="spacingAndGlyphs">42</text>
<line x1="386.33" y1="388.3" x2="386.33" y2="390.20" stroke="#262626" stroke-width="0.9"/>
<text x="386.33" y="394.90" font-size="5.9" fill="#3d3d3d" stroke="#3d3d3d" stroke-width="0.12" text-anchor="middle" textLength="6.0" lengthAdjust="spacingAndGlyphs">48</text>
<line x1="400.80" y1="388.3" x2="400.80" y2="390.20" stroke="#262626" stroke-width="0.9"/>
<text x="400.80" y="394.90" font-size="5.9" fill="#3d3d3d" stroke="#3d3d3d" stroke-width="0.12" text-anchor="middle" textLength="6.0" lengthAdjust="spacingAndGlyphs">54</text>
<line x1="415.27" y1="388.3" x2="415.27" y2="390.20" stroke="#262626" stroke-width="0.9"/>
<text x="415.27" y="394.90" font-size="5.9" fill="#3d3d3d" stroke="#3d3d3d" stroke-width="0.12" text-anchor="middle" textLength="6.0" lengthAdjust="spacingAndGlyphs">60</text>
<line x1="429.73" y1="388.3" x2="429.73" y2="390.20" stroke="#262626" stroke-width="0.9"/>
<text x="429.73" y="394.90" font-size="5.9" fill="#3d3d3d" stroke="#3d3d3d" stroke-width="0.12" text-anchor="middle" textLength="6.0" lengthAdjust="spacingAndGlyphs">66</text>
<line x1="444.20" y1="388.3" x2="444.20" y2="390.20" stroke="#262626" stroke-width="0.9"/>
<text x="444.20" y="394.90" font-size="5.9" fill="#3d3d3d" stroke="#3d3d3d" stroke-width="0.12" text-anchor="middle" textLength="6.0" lengthAdjust="spacingAndGlyphs">72</text>
<text x="357.55" y="402.80" font-size="7.3" fill="#1a1a1a" stroke="#1a1a1a" stroke-width="0.15" paint-order="stroke" text-anchor="middle" textLength="47" lengthAdjust="spacingAndGlyphs">Time (Months)</text>
<text transform="translate(246.70,313.20) rotate(-90)" font-size="7.6" fill="#1a1a1a" text-anchor="middle" textLength="80.8" lengthAdjust="spacingAndGlyphs">Recurrence-free survival</text>
<text x="274.10" y="372.20" font-size="6.7" fill="#1a1a1a" stroke="#1a1a1a" stroke-width="0.2" textLength="52.9" lengthAdjust="spacingAndGlyphs">Log rank P = 0.001</text>
<text x="274.10" y="379.80" font-size="6.7" fill="#1a1a1a" stroke="#1a1a1a" stroke-width="0.2" textLength="94.2" lengthAdjust="spacingAndGlyphs">HR (95%CI): 0.560 (0.391 - 0.803)</text>
<text x="354.25" y="419.20" font-family="Liberation Sans, sans-serif" font-size="9.6" fill="#111" stroke="#111" stroke-width="0.35" text-anchor="middle">E</text>
<text x="326.40" y="228.15" font-size="7.4" fill="#1a1a1a" stroke="#1a1a1a" stroke-width="0.15" paint-order="stroke" textLength="14.9" lengthAdjust="spacingAndGlyphs">AGR</text>
<rect x="345.05" y="223.05" width="4.8" height="4.6" fill="#F8766D" fill-opacity="0.3" stroke="#F8766D" stroke-opacity="0.35" stroke-width="0.5"/>
<line x1="344.80" y1="225.40" x2="350.10" y2="225.40" stroke="#F8766D" stroke-width="0.9"/>
<line x1="347.45" y1="223.90" x2="347.45" y2="226.90" stroke="#F8766D" stroke-width="0.75"/>
<text x="353.60" y="227.05" font-size="5.8" fill="#1a1a1a" stroke="#1a1a1a" stroke-width="0.15" paint-order="stroke" textLength="10.5" lengthAdjust="spacingAndGlyphs">Low</text>
<rect x="367.55" y="223.05" width="4.8" height="4.6" fill="#00BFC4" fill-opacity="0.3" stroke="#00BFC4" stroke-opacity="0.35" stroke-width="0.5"/>
<line x1="367.30" y1="225.40" x2="372.60" y2="225.40" stroke="#00BFC4" stroke-width="0.9"/>
<line x1="369.95" y1="223.90" x2="369.95" y2="226.90" stroke="#00BFC4" stroke-width="0.75"/>
<text x="376.10" y="227.05" font-size="5.8" fill="#1a1a1a" stroke="#1a1a1a" stroke-width="0.15" paint-order="stroke" textLength="12.6" lengthAdjust="spacingAndGlyphs">High</text>
<path d="M502.1,244.1 L503.1,244.1 L503.1,244.3 L504.9,244.3 L504.9,244.5 L506.9,244.5 L506.9,244.8 L508.8,244.8 L508.8,245 L509.7,245 L510.6,245 L510.6,247.2 L512.3,247.2 L512.3,249.4 L513.2,249.4 L514.4,249.4 L514.4,252.7 L516.8,252.7 L516.8,256 L518,256 L518.9,256 L518.9,258 L520.6,258 L520.6,260 L522.3,260 L522.3,262 L523.2,262 L524.1,262 L524.1,263.2 L525.8,263.2 L525.8,264.3 L527.4,264.3 L527.4,265.5 L528.3,265.5 L529.3,265.5 L529.3,266.7 L531.3,266.7 L531.3,267.8 L533.3,267.8 L533.3,269 L534.3,269 L535.4,269 L535.4,271 L537.5,271 L537.5,273 L538.6,273 L539.6,273 L539.6,275 L541.7,275 L541.7,277 L543.8,277 L543.8,279 L544.8,279 L545.9,279 L545.9,281.5 L548.1,281.5 L548.1,284 L549.2,284 L550.2,284 L550.2,285.2 L552.2,285.2 L552.2,286.3 L554.1,286.3 L554.1,287.5 L555.1,287.5 L556.1,287.5 L556.1,288.5 L558,288.5 L558,289.5 L560,289.5 L560,290.5 L561.9,290.5 L561.9,291.4 L563.9,291.4 L563.9,292.4 L565.8,292.4 L565.8,293.4 L566.8,293.4 L567.7,293.4 L567.7,294.4 L569.6,294.4 L569.6,295.4 L571.5,295.4 L571.5,296.5 L573.3,296.5 L573.3,297.5 L575.2,297.5 L575.2,298.5 L576.1,298.5 L577.2,298.5 L577.2,299.5 L579.5,299.5 L579.5,300.6 L581.9,300.6 L581.9,301.6 L583,301.6 L584,301.6 L584,301.9 L586,301.9 L586,302.3 L588,302.3 L588,302.6 L590,302.6 L590,302.9 L592,302.9 L592,303.3 L594,303.3 L594,303.6 L595,303.6 L596.1,303.6 L596.1,305 L598.4,305 L598.4,306.3 L600.6,306.3 L600.6,307.7 L602.9,307.7 L602.9,309 L604,309 L604.9,309 L604.9,310.7 L606.8,310.7 L606.8,312.3 L608.6,312.3 L608.6,314 L609.5,314 L610.8,314 L610.8,315.8 L613.2,315.8 L613.2,317.5 L614.5,317.5 L645,317.5 L645,350.8 L609.9,350.8 L608.9,350.8 L608.9,348.5 L606.8,348.5 L606.8,346.1 L604.8,346.1 L604.8,343.8 L603.8,343.8 L602.9,343.8 L602.9,341.6 L601.2,341.6 L601.2,339.4 L599.4,339.4 L599.4,337.2 L597.7,337.2 L597.7,335 L596.8,335 L595.9,335 L595.9,326.3 L595,326.3 L579.3,326.3 L578.4,326.3 L578.4,323.9 L576.5,323.9 L576.5,321.4 L574.7,321.4 L574.7,319 L573.8,319 L573,319 L573,317.5 L572.3,317.5 L571.4,317.5 L571.4,316.4 L569.7,316.4 L569.7,315.3 L567.9,315.3 L567.9,314.2 L566.2,314.2 L566.2,313.1 L565.3,313.1 L564.4,313.1 L564.4,312.2 L562.6,312.2 L562.6,311.4 L560.9,311.4 L560.9,310.5 L560,310.5 L559.1,310.5 L559.1,309.5 L557.3,309.5 L557.3,308.4 L555.4,308.4 L555.4,307.4 L553.6,307.4 L553.6,306.3 L552.7,306.3 L551.8,306.3 L551.8,304.8 L550.1,304.8 L550.1,303.4 L548.3,303.4 L548.3,301.9 L546.6,301.9 L546.6,300.4 L545.7,300.4 L544.7,300.4 L544.7,298.8 L542.8,298.8 L542.8,297.3 L540.9,297.3 L540.9,295.7 L539.9,295.7 L539,295.7 L539,293.8 L537.3,293.8 L537.3,291.9 L535.5,291.9 L535.5,289.9 L533.8,289.9 L533.8,288 L532.9,288 L531.8,288 L531.8,286 L529.5,286 L529.5,284 L528.4,284 L527,284 L527,278 L525.7,278 L524.5,278 L524.5,273.8 L523.2,273.8 L522.3,273.8 L522.3,270.8 L520.6,270.8 L520.6,267.8 L519.7,267.8 L518.9,267.8 L518.9,264.4 L517.1,264.4 L517.1,260.9 L516.3,260.9 L515.4,260.9 L515.4,257.9 L513.8,257.9 L513.8,254.9 L512.9,254.9 L512,254.9 L512,251.1 L510.3,251.1 L510.3,247.2 L509.4,247.2 L508.5,247.2 L508.5,246.2 L506.9,246.2 L506.9,245.3 L506,245.3 L505,245.3 L505,245 L503.1,245 L503.1,244.7 L502.1,244.7Z" fill="#F8766D" fill-opacity="0.3"/>
<path d="M502.1,244.1 L503.1,244.1 L503.1,244.2 L504.9,244.2 L504.9,244.3 L506.9,244.3 L506.9,244.4 L508.8,244.4 L508.8,244.5 L509.7,244.5 L510.9,244.5 L510.9,245.4 L513.4,245.4 L513.4,246.3 L514.6,246.3 L515.5,246.3 L515.5,247.2 L517.2,247.2 L517.2,248 L518.9,248 L518.9,248.9 L519.7,248.9 L520.6,248.9 L520.6,250.2 L522.3,250.2 L522.3,251.4 L523.2,251.4 L524.3,251.4 L524.3,254 L526.4,254 L526.4,256.6 L527.5,256.6 L528.6,256.6 L528.6,257.9 L530.7,257.9 L530.7,259.2 L531.8,259.2 L532.8,259.2 L532.8,259.8 L534.8,259.8 L534.8,260.3 L536.8,260.3 L536.8,260.9 L537.8,260.9 L538.8,260.9 L538.8,261.8 L541,261.8 L541,262.6 L542,262.6 L543,262.6 L543,263.5 L545,263.5 L545,264.3 L546,264.3 L546.5,264.3 L546.5,265.7 L547.1,265.7 L548,265.7 L548,266.4 L549.9,266.4 L549.9,267.1 L551.8,267.1 L551.8,267.8 L553.7,267.8 L553.7,268.5 L555.6,268.5 L555.6,269.2 L556.5,269.2 L557.4,269.2 L557.4,269.7 L559.3,269.7 L559.3,270.2 L561.1,270.2 L561.1,270.6 L563,270.6 L563,271.1 L564.9,271.1 L564.9,271.6 L565.8,271.6 L566.7,271.6 L566.7,272.2 L568.5,272.2 L568.5,272.8 L570.2,272.8 L570.2,273.3 L572,273.3 L572,273.9 L572.9,273.9 L573.8,273.9 L573.8,274.8 L575.5,274.8 L575.5,275.6 L577.1,275.6 L577.1,276.5 L578,276.5 L579,276.5 L579,276.9 L581,276.9 L581,277.4 L583,277.4 L583,277.8 L585,277.8 L585,278.2 L586,278.2 L587,278.2 L587,278.3 L589,278.3 L589,278.4 L591.1,278.4 L591.1,278.5 L593.1,278.5 L593.1,278.6 L595.1,278.6 L595.1,278.6 L597.2,278.6 L597.2,278.7 L599.2,278.7 L599.2,278.8 L601.2,278.8 L601.2,278.9 L603.3,278.9 L603.3,279 L604.3,279 L605.8,279 L605.8,283.4 L607.2,283.4 L608.2,283.4 L608.2,283.9 L610.2,283.9 L610.2,284.4 L612.2,284.4 L612.2,285 L614.2,285 L614.2,285.5 L615.2,285.5 L616.2,285.5 L616.2,285.9 L618.1,285.9 L618.1,286.2 L620.1,286.2 L620.1,286.6 L622,286.6 L622,287 L624,287 L624,287.3 L625.9,287.3 L625.9,287.7 L626.9,287.7 L664.1,287.7 L664.1,329.8 L627.4,329.8 L627.4,317.5 L615.2,317.2 L614.2,317.2 L614.2,316 L612.2,316 L612.2,314.9 L610.2,314.9 L610.2,313.8 L608.2,313.8 L608.2,312.6 L607.2,312.6 L605.8,312.6 L605.8,305.3 L604.3,305.3 L603.2,305.3 L603.2,304.9 L601,304.9 L601,304.6 L598.8,304.6 L598.8,304.2 L596.6,304.2 L596.6,303.8 L595.5,303.8 L594.4,303.8 L594.4,303.2 L592.2,303.2 L592.2,302.6 L590,302.6 L590,302.1 L587.8,302.1 L587.8,301.5 L586.7,301.5 L585.7,301.5 L585.7,300.7 L583.8,300.7 L583.8,300 L581.8,300 L581.8,299.2 L580.8,299.2 L579.9,299.2 L579.9,298.5 L578,298.5 L578,297.8 L576.1,297.8 L576.1,297.1 L574.3,297.1 L574.3,296.4 L572.4,296.4 L572.4,295.7 L571.5,295.7 L570.4,295.7 L570.4,294.8 L568.3,294.8 L568.3,293.9 L566.2,293.9 L566.2,292.9 L564.1,292.9 L564.1,292 L562,292 L562,291.1 L560.9,291.1 L559.9,291.1 L559.9,290 L558,290 L558,288.9 L556,288.9 L556,287.8 L554.1,287.8 L554.1,286.7 L552.1,286.7 L552.1,285.6 L550.2,285.6 L550.2,284.5 L549.2,284.5 L548.1,284.5 L548.1,283 L545.8,283 L545.8,281.5 L543.5,281.5 L543.5,280 L542.4,280 L541.5,280 L541.5,279.1 L539.8,279.1 L539.8,278.2 L538,278.2 L538,277.4 L536.3,277.4 L536.3,276.5 L535.4,276.5 L534.5,276.5 L534.5,275.2 L532.8,275.2 L532.8,274 L531,274 L531,272.8 L529.3,272.8 L529.3,271.5 L528.4,271.5 L527.5,271.5 L527.5,269.5 L525.8,269.5 L525.8,267.4 L524,267.4 L524,265.4 L522.3,265.4 L522.3,263.4 L521.4,263.4 L520.4,263.4 L520.4,260.3 L518.5,260.3 L518.5,257.1 L516.5,257.1 L516.5,254 L515.5,254 L514.5,254 L514.5,251.2 L512.6,251.2 L512.6,248.5 L510.7,248.5 L510.7,245.7 L509.7,245.7 L508.8,245.7 L508.8,245.4 L506.9,245.4 L506.9,245.2 L504.9,245.2 L504.9,244.9 L503.1,244.9 L503.1,244.7 L502.1,244.7Z" fill="#00BFC4" fill-opacity="0.3"/>
<path d="M502.1,244.4 L505,244.7 L506.2,244.7 L506.2,245.6 L508.5,245.6 L508.5,246.4 L509.7,246.4 L510.6,246.4 L510.6,249.7 L512.3,249.7 L512.3,252.9 L513.2,252.9 L514.1,252.9 L514.1,255.2 L515.8,255.2 L515.8,257.5 L516.7,257.5 L517.6,257.5 L517.6,261.6 L519.3,261.6 L519.3,265.7 L520.2,265.7 L521.1,265.7 L521.1,268 L522.8,268 L522.8,270.4 L523.7,270.4 L524.6,270.4 L524.6,272.9 L526.3,272.9 L526.3,275.5 L527.2,275.5 L528.3,275.5 L528.3,277.6 L530.6,277.6 L530.6,279.6 L532.9,279.6 L532.9,281.7 L534,281.7 L534.9,281.7 L534.9,283.8 L536.7,283.8 L536.7,285.8 L538.4,285.8 L538.4,287.9 L540.2,287.9 L540.2,289.9 L541.1,289.9 L542,289.9 L542,290.8 L543.7,290.8 L543.7,291.6 L545.5,291.6 L545.5,292.5 L547.2,292.5 L547.2,293.4 L548.1,293.4 L549.2,293.4 L549.2,295.8 L551.6,295.8 L551.6,298.1 L552.7,298.1 L553.6,298.1 L553.6,298.8 L555.4,298.8 L555.4,299.5 L557.1,299.5 L557.1,300.1 L558.9,300.1 L558.9,300.8 L559.8,300.8 L560.8,300.8 L560.8,301.8 L562.7,301.8 L562.7,302.9 L564.6,302.9 L564.6,303.9 L565.6,303.9 L566.7,303.9 L566.7,304.6 L569,304.6 L569,305.4 L571.2,305.4 L571.2,306.1 L572.3,306.1 L573.1,306.1 L573.1,310.5 L574,310.5 L574.9,310.5 L574.9,311.4 L576.6,311.4 L576.6,312.2 L578.4,312.2 L578.4,313.1 L579.3,313.1 L580.1,313.1 L580.1,315.6 L581,315.6 L595,315.6 L595.5,315.6 L595.5,319.3 L595.9,319.3 L596.9,319.3 L596.9,320.5 L599,320.5 L599,321.6 L601,321.6 L601,322.8 L602,322.8 L602.9,322.8 L602.9,325.4 L604.6,325.4 L604.6,328 L605.5,328 L606.4,328 L606.4,330.2 L608.1,330.2 L608.1,332.4 L609,332.4 L609.9,332.4 L609.9,335.9 L610.8,335.9 L645,335.9" fill="none" stroke="#F8766D" stroke-width="1.2" stroke-linejoin="miter"/>
<path d="M516.40,255.41v3.4M515.20,257.11h2.4M522.51,267.10v3.4M521.31,268.80h2.4M528.13,274.65v3.4M526.93,276.35h2.4M534.05,280.05v3.4M532.85,281.75h2.4M540.65,287.68v3.4M539.45,289.38h2.4M543.76,289.53v3.4M542.56,291.23h2.4M547.09,291.19v3.4M545.89,292.89h2.4M550.51,294.16v3.4M549.31,295.86h2.4M553.31,296.63v3.4M552.11,298.33h2.4M560.60,299.53v3.4M559.40,301.23h2.4M564.82,301.78v3.4M563.62,303.48h2.4M568.62,303.19v3.4M567.42,304.89h2.4M573.24,306.84v3.4M572.04,308.54h2.4M581.22,313.90v3.4M580.02,315.60h2.4M586.09,313.90v3.4M584.89,315.60h2.4M590.80,313.90v3.4M589.60,315.60h2.4M594.61,313.90v3.4M593.41,315.60h2.4M599.55,319.70v3.4M598.35,321.40h2.4M602.79,322.28v3.4M601.59,323.98h2.4M607.86,329.27v3.4M606.66,330.97h2.4M615.76,334.20v3.4M614.56,335.90h2.4M619.40,334.20v3.4M618.20,335.90h2.4M622.25,334.20v3.4M621.05,335.90h2.4M626.26,334.20v3.4M625.06,335.90h2.4M630.53,334.20v3.4M629.33,335.90h2.4M633.69,334.20v3.4M632.49,335.90h2.4M637.65,334.20v3.4M636.45,335.90h2.4M642.44,334.20v3.4M641.24,335.90h2.4M645.00,334.20v3.4M643.80,335.90h2.4" fill="none" stroke="#F8766D" stroke-width="0.75"/>
<path d="M502.1,244.4 L503.1,244.4 L503.1,244.6 L504.9,244.6 L504.9,244.8 L506.9,244.8 L506.9,245.1 L508.8,245.1 L508.8,245.3 L509.7,245.3 L510.6,245.3 L510.6,247.4 L512.3,247.4 L512.3,249.4 L513.2,249.4 L514.4,249.4 L514.4,250.6 L516.7,250.6 L516.7,251.7 L517.9,251.7 L519.1,251.7 L519.1,254 L521.4,254 L521.4,256.4 L522.6,256.4 L523.8,256.4 L523.8,259.3 L526.1,259.3 L526.1,262.2 L527.2,262.2 L528.4,262.2 L528.4,264.9 L530.7,264.9 L530.7,267.5 L531.9,267.5 L532.8,267.5 L532.8,267.9 L534.5,267.9 L534.5,268.4 L536.3,268.4 L536.3,268.8 L538,268.8 L538,269.2 L538.9,269.2 L539.9,269.2 L539.9,270.6 L541.8,270.6 L541.8,272.1 L543.8,272.1 L543.8,273.5 L544.8,273.5 L545.9,273.5 L545.9,273.9 L548.1,273.9 L548.1,274.4 L550.2,274.4 L550.2,274.8 L552.4,274.8 L552.4,275.2 L553.5,275.2 L554.9,275.2 L554.9,278.8 L556.3,278.8 L557.3,278.8 L557.3,279.4 L559.3,279.4 L559.3,279.9 L561.4,279.9 L561.4,280.5 L563.4,280.5 L563.4,281.1 L564.4,281.1 L565.4,281.1 L565.4,282.1 L567.3,282.1 L567.3,283 L569.3,283 L569.3,284 L570.3,284 L571.3,284 L571.3,285.1 L573.3,285.1 L573.3,286.2 L575.3,286.2 L575.3,287.4 L577.3,287.4 L577.3,288.5 L578.3,288.5 L579.2,288.5 L579.2,288.7 L581,288.7 L581,288.9 L582.8,288.9 L582.8,289.1 L584.6,289.1 L584.6,289.3 L585.5,289.3 L586.9,289.3 L586.9,291.2 L588.2,291.2 L603.5,291.2 L604.4,291.2 L604.4,294.6 L606.3,294.6 L606.3,298 L607.2,298 L608.2,298 L608.2,298.4 L610.2,298.4 L610.2,298.7 L612.2,298.7 L612.2,299.1 L614.2,299.1 L614.2,299.4 L615.2,299.4 L615.6,299.4 L615.6,303.1 L616,303.1 L627.5,303.1 L627.5,311.2 L664.5,311.2" fill="none" stroke="#00BFC4" stroke-width="1.2" stroke-linejoin="miter"/>
<path d="M516.40,249.27v3.4M515.20,250.97h2.4M522.56,254.66v3.4M521.36,256.36h2.4M529.12,262.67v3.4M527.92,264.37h2.4M534.30,266.38v3.4M533.10,268.08h2.4M540.84,268.91v3.4M539.64,270.61h2.4M546.62,272.15v3.4M545.42,273.85h2.4M554.08,274.24v3.4M552.88,275.94h2.4M559.37,277.97v3.4M558.17,279.67h2.4M562.21,278.78v3.4M561.01,280.48h2.4M569.77,282.04v3.4M568.57,283.74h2.4M577.01,286.07v3.4M575.81,287.77h2.4M580.17,287.01v3.4M578.97,288.71h2.4M585.39,287.59v3.4M584.19,289.29h2.4M592.24,289.50v3.4M591.04,291.20h2.4M595.38,289.50v3.4M594.18,291.20h2.4M599.05,289.50v3.4M597.85,291.20h2.4M604.67,291.66v3.4M603.47,293.36h2.4M608.50,296.53v3.4M607.30,298.23h2.4M611.35,297.03v3.4M610.15,298.73h2.4M617.04,301.40v3.4M615.84,303.10h2.4M622.55,301.40v3.4M621.35,303.10h2.4M629.07,309.50v3.4M627.87,311.20h2.4M636.37,309.50v3.4M635.17,311.20h2.4M642.66,309.50v3.4M641.46,311.20h2.4M650.11,309.50v3.4M648.91,311.20h2.4M657.98,309.50v3.4M656.78,311.20h2.4M661.30,309.50v3.4M660.10,311.20h2.4M664.50,309.50v3.4M663.30,311.20h2.4" fill="none" stroke="#00BFC4" stroke-width="0.75"/>
<line x1="493.55" y1="237.4" x2="493.55" y2="388.80" stroke="#4a4a4a" stroke-width="1.2"/>
<line x1="492.95" y1="388.2" x2="685.0" y2="388.2" stroke="#2a2a2a" stroke-width="1.2"/>
<line x1="491.65" y1="244.20" x2="493.55" y2="244.20" stroke="#262626" stroke-width="0.9"/>
<text x="490.65" y="246.30" font-size="6.3" fill="#3d3d3d" stroke="#3d3d3d" stroke-width="0.12" text-anchor="end" textLength="11" lengthAdjust="spacingAndGlyphs">1.00</text>
<line x1="491.65" y1="286.03" x2="493.55" y2="286.03" stroke="#262626" stroke-width="0.9"/>
<text x="490.65" y="288.13" font-size="6.3" fill="#3d3d3d" stroke="#3d3d3d" stroke-width="0.12" text-anchor="end" textLength="11" lengthAdjust="spacingAndGlyphs">0.75</text>
<line x1="491.65" y1="327.87" x2="493.55" y2="327.87" stroke="#262626" stroke-width="0.9"/>
<text x="490.65" y="329.97" font-size="6.3" fill="#3d3d3d" stroke="#3d3d3d" stroke-width="0.12" text-anchor="end" textLength="11" lengthAdjust="spacingAndGlyphs">0.50</text>
<line x1="491.65" y1="369.70" x2="493.55" y2="369.70" stroke="#262626" stroke-width="0.9"/>
<text x="490.65" y="371.80" font-size="6.3" fill="#3d3d3d" stroke="#3d3d3d" stroke-width="0.12" text-anchor="end" textLength="11" lengthAdjust="spacingAndGlyphs">0.25</text>
<line x1="502.40" y1="388.2" x2="502.40" y2="390.10" stroke="#262626" stroke-width="0.9"/>
<text x="502.40" y="394.80" font-size="5.9" fill="#3d3d3d" stroke="#3d3d3d" stroke-width="0.12" text-anchor="middle" textLength="3.0" lengthAdjust="spacingAndGlyphs">0</text>
<line x1="516.85" y1="388.2" x2="516.85" y2="390.10" stroke="#262626" stroke-width="0.9"/>
<text x="516.85" y="394.80" font-size="5.9" fill="#3d3d3d" stroke="#3d3d3d" stroke-width="0.12" text-anchor="middle" textLength="3.0" lengthAdjust="spacingAndGlyphs">6</text>
<line x1="531.30" y1="388.2" x2="531.30" y2="390.10" stroke="#262626" stroke-width="0.9"/>
<text x="531.30" y="394.80" font-size="5.9" fill="#3d3d3d" stroke="#3d3d3d" stroke-width="0.12" text-anchor="middle" textLength="6.0" lengthAdjust="spacingAndGlyphs">12</text>
<line x1="545.75" y1="388.2" x2="545.75" y2="390.10" stroke="#262626" stroke-width="0.9"/>
<text x="545.75" y="394.80" font-size="5.9" fill="#3d3d3d" stroke="#3d3d3d" stroke-width="0.12" text-anchor="middle" textLength="6.0" lengthAdjust="spacingAndGlyphs">18</text>
<line x1="560.20" y1="388.2" x2="560.20" y2="390.10" stroke="#262626" stroke-width="0.9"/>
<text x="560.20" y="394.80" font-size="5.9" fill="#3d3d3d" stroke="#3d3d3d" stroke-width="0.12" text-anchor="middle" textLength="6.0" lengthAdjust="spacingAndGlyphs">24</text>
<line x1="574.65" y1="388.2" x2="574.65" y2="390.10" stroke="#262626" stroke-width="0.9"/>
<text x="574.65" y="394.80" font-size="5.9" fill="#3d3d3d" stroke="#3d3d3d" stroke-width="0.12" text-anchor="middle" textLength="6.0" lengthAdjust="spacingAndGlyphs">30</text>
<line x1="589.10" y1="388.2" x2="589.10" y2="390.10" stroke="#262626" stroke-width="0.9"/>
<text x="589.10" y="394.80" font-size="5.9" fill="#3d3d3d" stroke="#3d3d3d" stroke-width="0.12" text-anchor="middle" textLength="6.0" lengthAdjust="spacingAndGlyphs">36</text>
<line x1="603.55" y1="388.2" x2="603.55" y2="390.10" stroke="#262626" stroke-width="0.9"/>
<text x="603.55" y="394.80" font-size="5.9" fill="#3d3d3d" stroke="#3d3d3d" stroke-width="0.12" text-anchor="middle" textLength="6.0" lengthAdjust="spacingAndGlyphs">42</text>
<line x1="618.00" y1="388.2" x2="618.00" y2="390.10" stroke="#262626" stroke-width="0.9"/>
<text x="618.00" y="394.80" font-size="5.9" fill="#3d3d3d" stroke="#3d3d3d" stroke-width="0.12" text-anchor="middle" textLength="6.0" lengthAdjust="spacingAndGlyphs">48</text>
<line x1="632.45" y1="388.2" x2="632.45" y2="390.10" stroke="#262626" stroke-width="0.9"/>
<text x="632.45" y="394.80" font-size="5.9" fill="#3d3d3d" stroke="#3d3d3d" stroke-width="0.12" text-anchor="middle" textLength="6.0" lengthAdjust="spacingAndGlyphs">54</text>
<line x1="646.90" y1="388.2" x2="646.90" y2="390.10" stroke="#262626" stroke-width="0.9"/>
<text x="646.90" y="394.80" font-size="5.9" fill="#3d3d3d" stroke="#3d3d3d" stroke-width="0.12" text-anchor="middle" textLength="6.0" lengthAdjust="spacingAndGlyphs">60</text>
<line x1="661.35" y1="388.2" x2="661.35" y2="390.10" stroke="#262626" stroke-width="0.9"/>
<text x="661.35" y="394.80" font-size="5.9" fill="#3d3d3d" stroke="#3d3d3d" stroke-width="0.12" text-anchor="middle" textLength="6.0" lengthAdjust="spacingAndGlyphs">66</text>
<line x1="675.80" y1="388.2" x2="675.80" y2="390.10" stroke="#262626" stroke-width="0.9"/>
<text x="675.80" y="394.80" font-size="5.9" fill="#3d3d3d" stroke="#3d3d3d" stroke-width="0.12" text-anchor="middle" textLength="6.0" lengthAdjust="spacingAndGlyphs">72</text>
<text x="589.27" y="402.70" font-size="7.3" fill="#1a1a1a" stroke="#1a1a1a" stroke-width="0.15" paint-order="stroke" text-anchor="middle" textLength="47" lengthAdjust="spacingAndGlyphs">Time (Months)</text>
<text transform="translate(478.15,312.80) rotate(-90)" font-size="7.6" fill="#1a1a1a" text-anchor="middle" textLength="80.8" lengthAdjust="spacingAndGlyphs">Recurrence-free survival</text>
<text x="505.90" y="372.00" font-size="6.7" fill="#1a1a1a" stroke="#1a1a1a" stroke-width="0.2" textLength="51.1" lengthAdjust="spacingAndGlyphs">Log rank P <0.001</text>
<text x="505.90" y="379.60" font-size="6.7" fill="#1a1a1a" stroke="#1a1a1a" stroke-width="0.2" textLength="94.2" lengthAdjust="spacingAndGlyphs">HR (95%CI): 0.567 (0.404 - 0.796)</text>
<text x="585.45" y="419.10" font-family="Liberation Sans, sans-serif" font-size="9.6" fill="#111" stroke="#111" stroke-width="0.35" text-anchor="middle">F</text>
<text x="559.27" y="227.45" font-size="7.4" fill="#1a1a1a" stroke="#1a1a1a" stroke-width="0.15" paint-order="stroke" textLength="12.6" lengthAdjust="spacingAndGlyphs">PNI</text>
<rect x="575.62" y="222.35" width="4.8" height="4.6" fill="#F8766D" fill-opacity="0.3" stroke="#F8766D" stroke-opacity="0.35" stroke-width="0.5"/>
<line x1="575.38" y1="224.70" x2="580.67" y2="224.70" stroke="#F8766D" stroke-width="0.9"/>
<line x1="578.02" y1="223.20" x2="578.02" y2="226.20" stroke="#F8766D" stroke-width="0.75"/>
<text x="584.17" y="226.35" font-size="5.8" fill="#1a1a1a" stroke="#1a1a1a" stroke-width="0.15" paint-order="stroke" textLength="10.5" lengthAdjust="spacingAndGlyphs">Low</text>
<rect x="598.12" y="222.35" width="4.8" height="4.6" fill="#00BFC4" fill-opacity="0.3" stroke="#00BFC4" stroke-opacity="0.35" stroke-width="0.5"/>
<line x1="597.88" y1="224.70" x2="603.17" y2="224.70" stroke="#00BFC4" stroke-width="0.9"/>
<line x1="600.52" y1="223.20" x2="600.52" y2="226.20" stroke="#00BFC4" stroke-width="0.75"/>
<text x="606.67" y="226.35" font-size="5.8" fill="#1a1a1a" stroke="#1a1a1a" stroke-width="0.15" paint-order="stroke" textLength="12.6" lengthAdjust="spacingAndGlyphs">High</text>
<line x1="229" y1="216" x2="229" y2="419" stroke="#f6f6f6" stroke-width="1"/>
<line x1="460.5" y1="0" x2="460.5" y2="193" stroke="#f3f3f3" stroke-width="1"/><line x1="460.5" y1="215" x2="460.5" y2="419" stroke="#f3f3f3" stroke-width="1"/>
</svg>
</body></html>
